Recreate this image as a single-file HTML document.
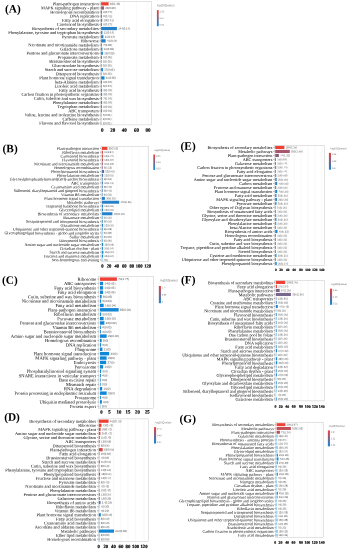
<!DOCTYPE html>
<html><head><meta charset="utf-8"><title>KEGG enrichment</title>
<style>
html,body{margin:0;padding:0;background:#fff}
body{width:349px;height:550px;overflow:hidden}
svg{display:block}
text{font-family:"Liberation Serif",serif;text-rendering:geometricPrecision}
.pl{font-weight:bold;font-size:11.3px;fill:#000}
.lab text{text-anchor:end;fill:#000}
.val text{font-family:"Liberation Sans",sans-serif;fill:#4c4c4c}
.tk text{font-weight:bold;text-anchor:middle;fill:#000;stroke:#000;stroke-width:0.16px}
.lt{font-family:"Liberation Sans",sans-serif;fill:#686868}
.ll{font-family:"Liberation Sans",sans-serif;fill:#686868}
</style></head><body>
<svg width="349" height="550" viewBox="0 0 349 550">
<defs><linearGradient id="lg" x1="0" y1="0" x2="0" y2="1"><stop offset="0" stop-color="#ee4035"/><stop offset="1" stop-color="#1088d8"/></linearGradient></defs>
<rect width="349" height="550" fill="#fff"/>
<g class="panel">
<line x1="112.70" y1="1.40" x2="112.70" y2="124.90" stroke="#ececec" stroke-width="0.35"/>
<line x1="124.20" y1="1.40" x2="124.20" y2="124.90" stroke="#ececec" stroke-width="0.35"/>
<line x1="136.40" y1="1.40" x2="136.40" y2="124.90" stroke="#ececec" stroke-width="0.35"/>
<line x1="147.90" y1="1.40" x2="147.90" y2="124.90" stroke="#ececec" stroke-width="0.35"/>
<rect x="100.60" y="1.40" width="51.10" height="123.50" fill="none" stroke="#b8b8b8" stroke-width="0.4"/>
<text class="pl" x="5.00" y="12.40" transform="rotate(0.05 5.00 12.40)">(A)</text>
<g class="lab" font-size="4.342">
<text x="98.60" y="5.25" transform="rotate(0.05 98.60 5.15)">Plant-pathogen interaction</text>
<text x="98.60" y="9.37" transform="rotate(0.05 98.60 9.27)">MAPK signaling pathway - plant</text>
<text x="98.60" y="13.48" transform="rotate(0.05 98.60 13.38)">Homologous recombination</text>
<text x="98.60" y="17.60" transform="rotate(0.05 98.60 17.50)">DNA replication</text>
<text x="98.60" y="21.71" transform="rotate(0.05 98.60 21.61)">Fatty acid elongation</text>
<text x="98.60" y="25.83" transform="rotate(0.05 98.60 25.73)">Carotenoid biosynthesis</text>
<text x="98.60" y="29.95" transform="rotate(0.05 98.60 29.85)">Biosynthesis of secondary metabolites</text>
<text x="98.60" y="34.06" transform="rotate(0.05 98.60 33.96)">Phenylalanine, tyrosine and tryptophan biosynthesis</text>
<text x="98.60" y="38.18" transform="rotate(0.05 98.60 38.08)">Pyruvate metabolism</text>
<text x="98.60" y="42.29" transform="rotate(0.05 98.60 42.19)">Ribosome</text>
<text x="98.60" y="46.41" transform="rotate(0.05 98.60 46.31)">Nicotinate and nicotinamide metabolism</text>
<text x="98.60" y="50.52" transform="rotate(0.05 98.60 50.42)">Galactose metabolism</text>
<text x="98.60" y="54.64" transform="rotate(0.05 98.60 54.54)">Pentose and glucuronate interconversions</text>
<text x="98.60" y="58.75" transform="rotate(0.05 98.60 58.65)">Propanoate metabolism</text>
<text x="98.60" y="62.87" transform="rotate(0.05 98.60 62.77)">Brassinosteroid biosynthesis</text>
<text x="98.60" y="66.99" transform="rotate(0.05 98.60 66.89)">Glucosinolate biosynthesis</text>
<text x="98.60" y="71.10" transform="rotate(0.05 98.60 71.00)">Starch and sucrose metabolism</text>
<text x="98.60" y="75.22" transform="rotate(0.05 98.60 75.12)">Diterpenoid biosynthesis</text>
<text x="98.60" y="79.33" transform="rotate(0.05 98.60 79.23)">Plant hormone signal transduction</text>
<text x="98.60" y="83.45" transform="rotate(0.05 98.60 83.35)">beta-Alanine metabolism</text>
<text x="98.60" y="87.56" transform="rotate(0.05 98.60 87.46)">Linoleic acid metabolism</text>
<text x="98.60" y="91.68" transform="rotate(0.05 98.60 91.58)">Fatty acid biosynthesis</text>
<text x="98.60" y="95.79" transform="rotate(0.05 98.60 95.69)">Carbon fixation in photosynthetic organisms</text>
<text x="98.60" y="99.91" transform="rotate(0.05 98.60 99.81)">Cutin, suberine and wax biosynthesis</text>
<text x="98.60" y="104.02" transform="rotate(0.05 98.60 103.92)">Phenylalanine metabolism</text>
<text x="98.60" y="108.14" transform="rotate(0.05 98.60 108.04)">Tryptophan metabolism</text>
<text x="98.60" y="112.26" transform="rotate(0.05 98.60 112.16)">ABC transporters</text>
<text x="98.60" y="116.37" transform="rotate(0.05 98.60 116.27)">Valine, leucine and isoleucine biosynthesis</text>
<text x="98.60" y="120.49" transform="rotate(0.05 98.60 120.39)">Caffeine metabolism</text>
<text x="98.60" y="124.60" transform="rotate(0.05 98.60 124.50)">Flavone and flavonol biosynthesis</text>
</g>
<line x1="99.40" y1="3.85" x2="100.60" y2="3.85" stroke="#333" stroke-width="0.4"/>
<line x1="99.40" y1="7.97" x2="100.60" y2="7.97" stroke="#333" stroke-width="0.4"/>
<line x1="99.40" y1="12.08" x2="100.60" y2="12.08" stroke="#333" stroke-width="0.4"/>
<line x1="99.40" y1="16.20" x2="100.60" y2="16.20" stroke="#333" stroke-width="0.4"/>
<line x1="99.40" y1="20.31" x2="100.60" y2="20.31" stroke="#333" stroke-width="0.4"/>
<line x1="99.40" y1="24.43" x2="100.60" y2="24.43" stroke="#333" stroke-width="0.4"/>
<line x1="99.40" y1="28.54" x2="100.60" y2="28.54" stroke="#333" stroke-width="0.4"/>
<line x1="99.40" y1="32.66" x2="100.60" y2="32.66" stroke="#333" stroke-width="0.4"/>
<line x1="99.40" y1="36.77" x2="100.60" y2="36.77" stroke="#333" stroke-width="0.4"/>
<line x1="99.40" y1="40.89" x2="100.60" y2="40.89" stroke="#333" stroke-width="0.4"/>
<line x1="99.40" y1="45.01" x2="100.60" y2="45.01" stroke="#333" stroke-width="0.4"/>
<line x1="99.40" y1="49.12" x2="100.60" y2="49.12" stroke="#333" stroke-width="0.4"/>
<line x1="99.40" y1="53.24" x2="100.60" y2="53.24" stroke="#333" stroke-width="0.4"/>
<line x1="99.40" y1="57.35" x2="100.60" y2="57.35" stroke="#333" stroke-width="0.4"/>
<line x1="99.40" y1="61.47" x2="100.60" y2="61.47" stroke="#333" stroke-width="0.4"/>
<line x1="99.40" y1="65.58" x2="100.60" y2="65.58" stroke="#333" stroke-width="0.4"/>
<line x1="99.40" y1="69.70" x2="100.60" y2="69.70" stroke="#333" stroke-width="0.4"/>
<line x1="99.40" y1="73.81" x2="100.60" y2="73.81" stroke="#333" stroke-width="0.4"/>
<line x1="99.40" y1="77.93" x2="100.60" y2="77.93" stroke="#333" stroke-width="0.4"/>
<line x1="99.40" y1="82.04" x2="100.60" y2="82.04" stroke="#333" stroke-width="0.4"/>
<line x1="99.40" y1="86.16" x2="100.60" y2="86.16" stroke="#333" stroke-width="0.4"/>
<line x1="99.40" y1="90.28" x2="100.60" y2="90.28" stroke="#333" stroke-width="0.4"/>
<line x1="99.40" y1="94.39" x2="100.60" y2="94.39" stroke="#333" stroke-width="0.4"/>
<line x1="99.40" y1="98.51" x2="100.60" y2="98.51" stroke="#333" stroke-width="0.4"/>
<line x1="99.40" y1="102.62" x2="100.60" y2="102.62" stroke="#333" stroke-width="0.4"/>
<line x1="99.40" y1="106.74" x2="100.60" y2="106.74" stroke="#333" stroke-width="0.4"/>
<line x1="99.40" y1="110.85" x2="100.60" y2="110.85" stroke="#333" stroke-width="0.4"/>
<line x1="99.40" y1="114.97" x2="100.60" y2="114.97" stroke="#333" stroke-width="0.4"/>
<line x1="99.40" y1="119.08" x2="100.60" y2="119.08" stroke="#333" stroke-width="0.4"/>
<line x1="99.40" y1="123.20" x2="100.60" y2="123.20" stroke="#333" stroke-width="0.4"/>
<g class="val" font-size="2.757">
<rect x="101.10" y="2.24" width="7.50" height="3.21" fill="#ee4035"/>
<text x="109.92" y="4.79" transform="rotate(0.05 109.92 4.79)">68(1.33)</text>
<rect x="101.10" y="6.36" width="2.90" height="3.21" fill="#955d76"/>
<text x="105.32" y="8.90" transform="rotate(0.05 105.32 8.90)">26(0.80)</text>
<rect x="101.10" y="10.48" width="0.90" height="3.21" fill="#8a607e"/>
<text x="103.32" y="13.02" transform="rotate(0.05 103.32 13.02)">8(0.74)</text>
<rect x="101.10" y="14.59" width="0.90" height="3.21" fill="#5372a7"/>
<text x="103.32" y="17.13" transform="rotate(0.05 103.32 17.13)">8(0.41)</text>
<rect x="101.10" y="18.71" width="1.10" height="3.21" fill="#5372a7"/>
<text x="103.52" y="21.25" transform="rotate(0.05 103.52 21.25)">10(0.41)</text>
<rect x="101.10" y="22.82" width="0.90" height="3.21" fill="#3c7ab7"/>
<text x="103.32" y="25.37" transform="rotate(0.05 103.32 25.37)">8(0.27)</text>
<rect x="101.10" y="26.94" width="15.80" height="3.21" fill="#2681c8"/>
<text x="118.22" y="29.48" transform="rotate(0.05 118.22 29.48)">144(0.14)</text>
<rect x="101.10" y="31.05" width="1.30" height="3.21" fill="#2681c8"/>
<text x="103.72" y="33.60" transform="rotate(0.05 103.72 33.60)">12(0.14)</text>
<rect x="101.10" y="35.17" width="2.30" height="3.21" fill="#2681c8"/>
<text x="104.72" y="37.71" transform="rotate(0.05 104.72 37.71)">21(0.14)</text>
<rect x="101.10" y="39.28" width="4.50" height="3.21" fill="#2681c8"/>
<text x="106.92" y="41.83" transform="rotate(0.05 106.92 41.83)">41(0.14)</text>
<rect x="101.10" y="43.40" width="0.80" height="3.21" fill="#1b84d0"/>
<text x="103.22" y="45.94" transform="rotate(0.05 103.22 45.94)">7(0.08)</text>
<rect x="101.10" y="47.52" width="1.30" height="3.21" fill="#1b84d0"/>
<text x="103.72" y="50.06" transform="rotate(0.05 103.72 50.06)">12(0.08)</text>
<rect x="101.10" y="51.63" width="1.80" height="3.21" fill="#1b84d0"/>
<text x="104.22" y="54.17" transform="rotate(0.05 104.22 54.17)">16(0.08)</text>
<rect x="101.10" y="55.75" width="0.90" height="3.21" fill="#1786d3"/>
<text x="103.32" y="58.29" transform="rotate(0.05 103.32 58.29)">8(0.05)</text>
<rect x="101.10" y="59.86" width="0.50" height="3.21" fill="#1786d3"/>
<text x="102.92" y="62.40" transform="rotate(0.05 102.92 62.40)">5(0.05)</text>
<rect x="101.10" y="63.98" width="0.50" height="3.21" fill="#1786d3"/>
<text x="102.92" y="66.52" transform="rotate(0.05 102.92 66.52)">5(0.05)</text>
<rect x="101.10" y="68.09" width="1.90" height="3.21" fill="#1786d3"/>
<text x="104.32" y="70.64" transform="rotate(0.05 104.32 70.64)">17(0.05)</text>
<rect x="101.10" y="72.21" width="0.50" height="3.21" fill="#1786d3"/>
<text x="102.92" y="74.75" transform="rotate(0.05 102.92 74.75)">5(0.05)</text>
<rect x="101.10" y="76.32" width="3.40" height="3.21" fill="#1786d3"/>
<text x="105.82" y="78.87" transform="rotate(0.05 105.82 78.87)">31(0.05)</text>
<rect x="101.10" y="80.44" width="0.90" height="3.21" fill="#1487d5"/>
<text x="103.32" y="82.98" transform="rotate(0.05 103.32 82.98)">8(0.04)</text>
<rect x="101.10" y="84.56" width="0.60" height="3.21" fill="#1487d5"/>
<text x="103.02" y="87.10" transform="rotate(0.05 103.02 87.10)">5(0.04)</text>
<rect x="101.10" y="88.67" width="1.00" height="3.21" fill="#1487d5"/>
<text x="103.42" y="91.21" transform="rotate(0.05 103.42 91.21)">9(0.04)</text>
<rect x="101.10" y="92.79" width="1.00" height="3.21" fill="#1487d5"/>
<text x="103.42" y="95.33" transform="rotate(0.05 103.42 95.33)">9(0.04)</text>
<rect x="101.10" y="96.90" width="0.75" height="3.21" fill="#1487d5"/>
<text x="103.17" y="99.44" transform="rotate(0.05 103.17 99.44)">7(0.04)</text>
<rect x="101.10" y="101.02" width="1.00" height="3.21" fill="#1487d5"/>
<text x="103.42" y="103.56" transform="rotate(0.05 103.42 103.56)">9(0.04)</text>
<rect x="101.10" y="105.13" width="0.90" height="3.21" fill="#1088d8"/>
<text x="103.32" y="107.68" transform="rotate(0.05 103.32 107.68)">8(0.01)</text>
<rect x="101.10" y="109.25" width="0.90" height="3.21" fill="#1088d8"/>
<text x="103.32" y="111.79" transform="rotate(0.05 103.32 111.79)">8(0.01)</text>
<rect x="101.10" y="113.36" width="0.40" height="3.21" fill="#1088d8"/>
<text x="102.82" y="115.91" transform="rotate(0.05 102.82 115.91)">4(0.01)</text>
<rect x="101.10" y="117.48" width="0.30" height="3.21" fill="#1088d8"/>
<text x="102.72" y="120.02" transform="rotate(0.05 102.72 120.02)">3(0.01)</text>
<rect x="101.10" y="121.59" width="0.30" height="3.21" fill="#1088d8"/>
<text x="102.72" y="124.14" transform="rotate(0.05 102.72 124.14)">3(0.01)</text>
</g>
<g class="tk" font-size="5.00">
<text x="102.20" y="131.75" transform="rotate(0.05 102.20 130.10)">0</text>
<text x="112.70" y="131.75" transform="rotate(0.05 112.70 130.10)">20</text>
<text x="124.20" y="131.75" transform="rotate(0.05 124.20 130.10)">40</text>
<text x="136.40" y="131.75" transform="rotate(0.05 136.40 130.10)">60</text>
<text x="147.90" y="131.75" transform="rotate(0.05 147.90 130.10)">80</text>
</g>
<text class="lt" x="156.00" y="6.14" font-size="2.80" transform="rotate(0.05 156.00 5.30)">-log10(Qvalue)</text>
<rect x="156.90" y="10.10" width="1.80" height="16.10" fill="url(#lg)"/>
<text class="ll" x="159.60" y="12.30" font-size="2.3" transform="rotate(0.05 156.90 11.50)">1.33</text>
<text class="ll" x="159.60" y="18.95" font-size="2.3" transform="rotate(0.05 156.90 18.15)">0.67</text>
<text class="ll" x="159.60" y="25.60" font-size="2.3" transform="rotate(0.05 156.90 24.80)">0.01</text>
</g>
<g class="panel">
<line x1="109.00" y1="146.60" x2="109.00" y2="261.80" stroke="#ececec" stroke-width="0.35"/>
<line x1="116.80" y1="146.60" x2="116.80" y2="261.80" stroke="#ececec" stroke-width="0.35"/>
<line x1="124.20" y1="146.60" x2="124.20" y2="261.80" stroke="#ececec" stroke-width="0.35"/>
<line x1="131.80" y1="146.60" x2="131.80" y2="261.80" stroke="#ececec" stroke-width="0.35"/>
<line x1="139.20" y1="146.60" x2="139.20" y2="261.80" stroke="#ececec" stroke-width="0.35"/>
<line x1="147.60" y1="146.60" x2="147.60" y2="261.80" stroke="#ececec" stroke-width="0.35"/>
<rect x="101.10" y="146.60" width="47.70" height="115.20" fill="none" stroke="#b8b8b8" stroke-width="0.4"/>
<text class="pl" x="2.60" y="152.20" transform="rotate(0.05 2.60 152.20)">(B)</text>
<g class="lab" font-size="4.018">
<text x="99.10" y="149.86" transform="rotate(0.05 99.10 149.61)">Plant-pathogen interaction</text>
<text x="99.10" y="153.70" transform="rotate(0.05 99.10 153.45)">Riboflavin metabolism</text>
<text x="99.10" y="157.55" transform="rotate(0.05 99.10 157.30)">Carotenoid biosynthesis</text>
<text x="99.10" y="161.39" transform="rotate(0.05 99.10 161.14)">Flavonoid biosynthesis</text>
<text x="99.10" y="165.23" transform="rotate(0.05 99.10 164.98)">Nicotinate and nicotinamide metabolism</text>
<text x="99.10" y="169.08" transform="rotate(0.05 99.10 168.83)">Homologous recombination</text>
<text x="99.10" y="172.92" transform="rotate(0.05 99.10 172.67)">Phenylpropanoid biosynthesis</text>
<text x="99.10" y="176.77" transform="rotate(0.05 99.10 176.52)">Phenylalanine metabolism</text>
<text x="99.10" y="180.61" transform="rotate(0.05 99.10 180.36)">Glycosylphosphatidylinositol(GPI)-anchor biosynthesis</text>
<text x="99.10" y="184.46" transform="rotate(0.05 99.10 184.21)">ABC transporters</text>
<text x="99.10" y="188.30" transform="rotate(0.05 99.10 188.05)">Cyanoamino acid metabolism</text>
<text x="99.10" y="192.15" transform="rotate(0.05 99.10 191.90)">Stilbenoid, diarylheptanoid and gingerol biosynthesis</text>
<text x="99.10" y="195.99" transform="rotate(0.05 99.10 195.74)">Vitamin B6 metabolism</text>
<text x="99.10" y="199.84" transform="rotate(0.05 99.10 199.59)">Plant hormone signal transduction</text>
<text x="99.10" y="203.68" transform="rotate(0.05 99.10 203.43)">Metabolic pathways</text>
<text x="99.10" y="207.53" transform="rotate(0.05 99.10 207.28)">Terpenoid backbone biosynthesis</text>
<text x="99.10" y="211.37" transform="rotate(0.05 99.10 211.12)">Glycerolipid metabolism</text>
<text x="99.10" y="215.22" transform="rotate(0.05 99.10 214.97)">Biosynthesis of secondary metabolites</text>
<text x="99.10" y="219.06" transform="rotate(0.05 99.10 218.81)">Butanoate metabolism</text>
<text x="99.10" y="222.91" transform="rotate(0.05 99.10 222.66)">Sesquiterpenoid and triterpenoid biosynthesis</text>
<text x="99.10" y="226.75" transform="rotate(0.05 99.10 226.50)">Glutathione metabolism</text>
<text x="99.10" y="230.60" transform="rotate(0.05 99.10 230.35)">Ubiquinone and other terpenoid-quinone biosynthesis</text>
<text x="99.10" y="234.44" transform="rotate(0.05 99.10 234.19)">Glycosphingolipid biosynthesis - globo and isoglobo series</text>
<text x="99.10" y="238.29" transform="rotate(0.05 99.10 238.04)">Sulfur metabolism</text>
<text x="99.10" y="242.13" transform="rotate(0.05 99.10 241.88)">Diterpenoid biosynthesis</text>
<text x="99.10" y="245.98" transform="rotate(0.05 99.10 245.73)">Amino sugar and nucleotide sugar metabolism</text>
<text x="99.10" y="249.82" transform="rotate(0.05 99.10 249.57)">Circadian rhythm - plant</text>
<text x="99.10" y="253.67" transform="rotate(0.05 99.10 253.42)">Starch and sucrose metabolism</text>
<text x="99.10" y="257.51" transform="rotate(0.05 99.10 257.26)">Fructose and mannose metabolism</text>
<text x="99.10" y="261.36" transform="rotate(0.05 99.10 261.11)">Non-homologous end-joining</text>
</g>
<line x1="99.90" y1="148.40" x2="101.10" y2="148.40" stroke="#333" stroke-width="0.4"/>
<line x1="99.90" y1="152.24" x2="101.10" y2="152.24" stroke="#333" stroke-width="0.4"/>
<line x1="99.90" y1="156.09" x2="101.10" y2="156.09" stroke="#333" stroke-width="0.4"/>
<line x1="99.90" y1="159.93" x2="101.10" y2="159.93" stroke="#333" stroke-width="0.4"/>
<line x1="99.90" y1="163.78" x2="101.10" y2="163.78" stroke="#333" stroke-width="0.4"/>
<line x1="99.90" y1="167.62" x2="101.10" y2="167.62" stroke="#333" stroke-width="0.4"/>
<line x1="99.90" y1="171.47" x2="101.10" y2="171.47" stroke="#333" stroke-width="0.4"/>
<line x1="99.90" y1="175.31" x2="101.10" y2="175.31" stroke="#333" stroke-width="0.4"/>
<line x1="99.90" y1="179.16" x2="101.10" y2="179.16" stroke="#333" stroke-width="0.4"/>
<line x1="99.90" y1="183.00" x2="101.10" y2="183.00" stroke="#333" stroke-width="0.4"/>
<line x1="99.90" y1="186.85" x2="101.10" y2="186.85" stroke="#333" stroke-width="0.4"/>
<line x1="99.90" y1="190.69" x2="101.10" y2="190.69" stroke="#333" stroke-width="0.4"/>
<line x1="99.90" y1="194.54" x2="101.10" y2="194.54" stroke="#333" stroke-width="0.4"/>
<line x1="99.90" y1="198.38" x2="101.10" y2="198.38" stroke="#333" stroke-width="0.4"/>
<line x1="99.90" y1="202.23" x2="101.10" y2="202.23" stroke="#333" stroke-width="0.4"/>
<line x1="99.90" y1="206.07" x2="101.10" y2="206.07" stroke="#333" stroke-width="0.4"/>
<line x1="99.90" y1="209.92" x2="101.10" y2="209.92" stroke="#333" stroke-width="0.4"/>
<line x1="99.90" y1="213.76" x2="101.10" y2="213.76" stroke="#333" stroke-width="0.4"/>
<line x1="99.90" y1="217.61" x2="101.10" y2="217.61" stroke="#333" stroke-width="0.4"/>
<line x1="99.90" y1="221.45" x2="101.10" y2="221.45" stroke="#333" stroke-width="0.4"/>
<line x1="99.90" y1="225.30" x2="101.10" y2="225.30" stroke="#333" stroke-width="0.4"/>
<line x1="99.90" y1="229.14" x2="101.10" y2="229.14" stroke="#333" stroke-width="0.4"/>
<line x1="99.90" y1="232.99" x2="101.10" y2="232.99" stroke="#333" stroke-width="0.4"/>
<line x1="99.90" y1="236.83" x2="101.10" y2="236.83" stroke="#333" stroke-width="0.4"/>
<line x1="99.90" y1="240.68" x2="101.10" y2="240.68" stroke="#333" stroke-width="0.4"/>
<line x1="99.90" y1="244.52" x2="101.10" y2="244.52" stroke="#333" stroke-width="0.4"/>
<line x1="99.90" y1="248.37" x2="101.10" y2="248.37" stroke="#333" stroke-width="0.4"/>
<line x1="99.90" y1="252.21" x2="101.10" y2="252.21" stroke="#333" stroke-width="0.4"/>
<line x1="99.90" y1="256.06" x2="101.10" y2="256.06" stroke="#333" stroke-width="0.4"/>
<line x1="99.90" y1="259.90" x2="101.10" y2="259.90" stroke="#333" stroke-width="0.4"/>
<g class="val" font-size="2.576">
<rect x="101.90" y="146.90" width="5.50" height="3.00" fill="#ee4035"/>
<text x="108.63" y="149.28" transform="rotate(0.05 108.63 149.28)">55(2.05)</text>
<rect x="101.90" y="150.75" width="1.10" height="3.00" fill="#d84745"/>
<text x="104.23" y="153.12" transform="rotate(0.05 104.23 153.12)">11(1.84)</text>
<rect x="101.90" y="154.59" width="1.20" height="3.00" fill="#cd4b4d"/>
<text x="104.33" y="156.97" transform="rotate(0.05 104.33 156.97)">12(1.74)</text>
<rect x="101.90" y="158.44" width="1.20" height="3.00" fill="#c24e56"/>
<text x="104.33" y="160.81" transform="rotate(0.05 104.33 160.81)">12(1.64)</text>
<rect x="101.90" y="162.28" width="1.00" height="3.00" fill="#955d76"/>
<text x="104.13" y="164.66" transform="rotate(0.05 104.13 164.66)">10(1.23)</text>
<rect x="101.90" y="166.12" width="0.80" height="3.00" fill="#8a607e"/>
<text x="103.93" y="168.50" transform="rotate(0.05 103.93 168.50)">8(1.13)</text>
<rect x="101.90" y="169.97" width="2.20" height="3.00" fill="#5372a7"/>
<text x="105.33" y="172.34" transform="rotate(0.05 105.33 172.34)">22(0.61)</text>
<rect x="101.90" y="173.81" width="1.20" height="3.00" fill="#4876af"/>
<text x="104.33" y="176.19" transform="rotate(0.05 104.33 176.19)">12(0.51)</text>
<rect x="101.90" y="177.66" width="0.80" height="3.00" fill="#4876af"/>
<text x="103.93" y="180.03" transform="rotate(0.05 103.93 180.03)">8(0.51)</text>
<rect x="101.90" y="181.50" width="1.00" height="3.00" fill="#3c7ab7"/>
<text x="104.13" y="183.88" transform="rotate(0.05 104.13 183.88)">10(0.41)</text>
<rect x="101.90" y="185.35" width="0.80" height="3.00" fill="#3c7ab7"/>
<text x="103.93" y="187.72" transform="rotate(0.05 103.93 187.72)">8(0.41)</text>
<rect x="101.90" y="189.19" width="0.80" height="3.00" fill="#3c7ab7"/>
<text x="103.93" y="191.57" transform="rotate(0.05 103.93 191.57)">8(0.41)</text>
<rect x="101.90" y="193.04" width="0.60" height="3.00" fill="#317dc0"/>
<text x="103.73" y="195.41" transform="rotate(0.05 103.73 195.41)">6(0.31)</text>
<rect x="101.90" y="196.88" width="3.00" height="3.00" fill="#2681c8"/>
<text x="106.13" y="199.26" transform="rotate(0.05 106.13 199.26)">30(0.20)</text>
<rect x="101.90" y="200.73" width="17.25" height="3.00" fill="#2681c8"/>
<text x="120.38" y="203.10" transform="rotate(0.05 120.38 203.10)">172(0.20)</text>
<rect x="101.90" y="204.57" width="1.20" height="3.00" fill="#2282cb"/>
<text x="104.33" y="206.95" transform="rotate(0.05 104.33 206.95)">12(0.16)</text>
<rect x="101.90" y="208.42" width="1.20" height="3.00" fill="#2282cb"/>
<text x="104.33" y="210.79" transform="rotate(0.05 104.33 210.79)">12(0.16)</text>
<rect x="101.90" y="212.26" width="10.50" height="3.00" fill="#2282cb"/>
<text x="113.63" y="214.64" transform="rotate(0.05 113.63 214.64)">105(0.16)</text>
<rect x="101.90" y="216.11" width="0.60" height="3.00" fill="#1b84d0"/>
<text x="103.73" y="218.48" transform="rotate(0.05 103.73 218.48)">6(0.10)</text>
<rect x="101.90" y="219.95" width="0.80" height="3.00" fill="#1b84d0"/>
<text x="103.93" y="222.33" transform="rotate(0.05 103.93 222.33)">8(0.10)</text>
<rect x="101.90" y="223.80" width="1.20" height="3.00" fill="#1b84d0"/>
<text x="104.33" y="226.17" transform="rotate(0.05 104.33 226.17)">12(0.10)</text>
<rect x="101.90" y="227.64" width="0.80" height="3.00" fill="#1985d1"/>
<text x="103.93" y="230.02" transform="rotate(0.05 103.93 230.02)">8(0.08)</text>
<rect x="101.90" y="231.49" width="0.50" height="3.00" fill="#1985d1"/>
<text x="103.63" y="233.86" transform="rotate(0.05 103.63 233.86)">5(0.08)</text>
<rect x="101.90" y="235.33" width="0.50" height="3.00" fill="#1786d3"/>
<text x="103.63" y="237.71" transform="rotate(0.05 103.63 237.71)">5(0.06)</text>
<rect x="101.90" y="239.18" width="0.60" height="3.00" fill="#1786d3"/>
<text x="103.73" y="241.55" transform="rotate(0.05 103.73 241.55)">6(0.06)</text>
<rect x="101.90" y="243.02" width="1.30" height="3.00" fill="#1786d3"/>
<text x="104.43" y="245.40" transform="rotate(0.05 104.43 245.40)">13(0.06)</text>
<rect x="101.90" y="246.87" width="1.00" height="3.00" fill="#1487d5"/>
<text x="104.13" y="249.24" transform="rotate(0.05 104.13 249.24)">10(0.04)</text>
<rect x="101.90" y="250.71" width="1.50" height="3.00" fill="#1487d5"/>
<text x="104.63" y="253.09" transform="rotate(0.05 104.63 253.09)">15(0.04)</text>
<rect x="101.90" y="254.56" width="1.20" height="3.00" fill="#1487d5"/>
<text x="104.33" y="256.93" transform="rotate(0.05 104.33 256.93)">12(0.04)</text>
<rect x="101.90" y="258.40" width="0.40" height="3.00" fill="#1088d8"/>
<text x="103.53" y="260.78" transform="rotate(0.05 103.53 260.78)">4(0)</text>
</g>
<g class="tk" font-size="4.60">
<text x="102.50" y="267.42" transform="rotate(0.05 102.50 265.90)">0</text>
<text x="109.00" y="267.42" transform="rotate(0.05 109.00 265.90)">20</text>
<text x="116.80" y="267.42" transform="rotate(0.05 116.80 265.90)">40</text>
<text x="124.20" y="267.42" transform="rotate(0.05 124.20 265.90)">60</text>
<text x="131.80" y="267.42" transform="rotate(0.05 131.80 265.90)">80</text>
<text x="139.20" y="267.42" transform="rotate(0.05 139.20 265.90)">100</text>
<text x="147.60" y="267.42" transform="rotate(0.05 147.60 265.90)">120</text>
</g>
<text class="lt" x="153.85" y="150.94" font-size="2.46" transform="rotate(0.05 153.85 150.20)">-log10(Qvalue)</text>
<rect x="153.30" y="154.50" width="1.75" height="15.45" fill="url(#lg)"/>
<text class="ll" x="155.95" y="156.70" font-size="2.3" transform="rotate(0.05 153.30 155.90)">2.05</text>
<text class="ll" x="155.95" y="163.03" font-size="2.3" transform="rotate(0.05 153.30 162.22)">1.03</text>
<text class="ll" x="155.95" y="169.35" font-size="2.3" transform="rotate(0.05 153.30 168.55)">0.00</text>
</g>
<g class="panel">
<line x1="109.40" y1="276.50" x2="109.40" y2="408.50" stroke="#ececec" stroke-width="0.35"/>
<line x1="119.00" y1="276.50" x2="119.00" y2="408.50" stroke="#ececec" stroke-width="0.35"/>
<line x1="127.90" y1="276.50" x2="127.90" y2="408.50" stroke="#ececec" stroke-width="0.35"/>
<line x1="137.40" y1="276.50" x2="137.40" y2="408.50" stroke="#ececec" stroke-width="0.35"/>
<line x1="147.30" y1="276.50" x2="147.30" y2="408.50" stroke="#ececec" stroke-width="0.35"/>
<rect x="98.55" y="276.50" width="54.95" height="132.00" fill="none" stroke="#b8b8b8" stroke-width="0.4"/>
<text class="pl" x="2.00" y="283.70" transform="rotate(0.05 2.00 283.70)">(C)</text>
<g class="lab" font-size="4.584">
<text x="96.15" y="280.73" transform="rotate(0.05 96.15 280.48)">Ribosome</text>
<text x="96.15" y="285.11" transform="rotate(0.05 96.15 284.86)">ABC transporters</text>
<text x="96.15" y="289.50" transform="rotate(0.05 96.15 289.25)">Fatty acid biosynthesis</text>
<text x="96.15" y="293.88" transform="rotate(0.05 96.15 293.63)">Fatty acid elongation</text>
<text x="96.15" y="298.27" transform="rotate(0.05 96.15 298.02)">Cutin, suberine and wax biosynthesis</text>
<text x="96.15" y="302.66" transform="rotate(0.05 96.15 302.41)">Nicotinate and nicotinamide metabolism</text>
<text x="96.15" y="307.04" transform="rotate(0.05 96.15 306.79)">Fatty acid metabolism</text>
<text x="96.15" y="311.43" transform="rotate(0.05 96.15 311.18)">Plant-pathogen interaction</text>
<text x="96.15" y="315.81" transform="rotate(0.05 96.15 315.56)">Riboflavin metabolism</text>
<text x="96.15" y="320.20" transform="rotate(0.05 96.15 319.95)">Pyruvate metabolism</text>
<text x="96.15" y="324.59" transform="rotate(0.05 96.15 324.34)">Pentose and glucuronate interconversions</text>
<text x="96.15" y="328.97" transform="rotate(0.05 96.15 328.72)">Vitamin B6 metabolism</text>
<text x="96.15" y="333.36" transform="rotate(0.05 96.15 333.11)">Brassinosteroid biosynthesis</text>
<text x="96.15" y="337.75" transform="rotate(0.05 96.15 337.50)">Amino sugar and nucleotide sugar metabolism</text>
<text x="96.15" y="342.13" transform="rotate(0.05 96.15 341.88)">Homologous recombination</text>
<text x="96.15" y="346.52" transform="rotate(0.05 96.15 346.27)">DNA replication</text>
<text x="96.15" y="350.90" transform="rotate(0.05 96.15 350.65)">Phagosome</text>
<text x="96.15" y="355.29" transform="rotate(0.05 96.15 355.04)">Plant hormone signal transduction</text>
<text x="96.15" y="359.68" transform="rotate(0.05 96.15 359.43)">MAPK signaling pathway - plant</text>
<text x="96.15" y="364.06" transform="rotate(0.05 96.15 363.81)">Endocytosis</text>
<text x="96.15" y="368.45" transform="rotate(0.05 96.15 368.20)">Peroxisome</text>
<text x="96.15" y="372.84" transform="rotate(0.05 96.15 372.59)">Phosphatidylinositol signaling system</text>
<text x="96.15" y="377.22" transform="rotate(0.05 96.15 376.97)">SNARE interactions in vesicular transport</text>
<text x="96.15" y="381.61" transform="rotate(0.05 96.15 381.36)">Base excision repair</text>
<text x="96.15" y="385.99" transform="rotate(0.05 96.15 385.74)">Mismatch repair</text>
<text x="96.15" y="390.38" transform="rotate(0.05 96.15 390.13)">RNA degradation</text>
<text x="96.15" y="394.77" transform="rotate(0.05 96.15 394.52)">Protein processing in endoplasmic reticulum</text>
<text x="96.15" y="399.15" transform="rotate(0.05 96.15 398.90)">Proteasome</text>
<text x="96.15" y="403.54" transform="rotate(0.05 96.15 403.29)">Ubiquitin mediated proteolysis</text>
<text x="96.15" y="407.93" transform="rotate(0.05 96.15 407.68)">Protein export</text>
</g>
<line x1="97.35" y1="279.10" x2="98.55" y2="279.10" stroke="#333" stroke-width="0.4"/>
<line x1="97.35" y1="283.49" x2="98.55" y2="283.49" stroke="#333" stroke-width="0.4"/>
<line x1="97.35" y1="287.87" x2="98.55" y2="287.87" stroke="#333" stroke-width="0.4"/>
<line x1="97.35" y1="292.26" x2="98.55" y2="292.26" stroke="#333" stroke-width="0.4"/>
<line x1="97.35" y1="296.64" x2="98.55" y2="296.64" stroke="#333" stroke-width="0.4"/>
<line x1="97.35" y1="301.03" x2="98.55" y2="301.03" stroke="#333" stroke-width="0.4"/>
<line x1="97.35" y1="305.42" x2="98.55" y2="305.42" stroke="#333" stroke-width="0.4"/>
<line x1="97.35" y1="309.80" x2="98.55" y2="309.80" stroke="#333" stroke-width="0.4"/>
<line x1="97.35" y1="314.19" x2="98.55" y2="314.19" stroke="#333" stroke-width="0.4"/>
<line x1="97.35" y1="318.58" x2="98.55" y2="318.58" stroke="#333" stroke-width="0.4"/>
<line x1="97.35" y1="322.96" x2="98.55" y2="322.96" stroke="#333" stroke-width="0.4"/>
<line x1="97.35" y1="327.35" x2="98.55" y2="327.35" stroke="#333" stroke-width="0.4"/>
<line x1="97.35" y1="331.73" x2="98.55" y2="331.73" stroke="#333" stroke-width="0.4"/>
<line x1="97.35" y1="336.12" x2="98.55" y2="336.12" stroke="#333" stroke-width="0.4"/>
<line x1="97.35" y1="340.51" x2="98.55" y2="340.51" stroke="#333" stroke-width="0.4"/>
<line x1="97.35" y1="344.89" x2="98.55" y2="344.89" stroke="#333" stroke-width="0.4"/>
<line x1="97.35" y1="349.28" x2="98.55" y2="349.28" stroke="#333" stroke-width="0.4"/>
<line x1="97.35" y1="353.67" x2="98.55" y2="353.67" stroke="#333" stroke-width="0.4"/>
<line x1="97.35" y1="358.05" x2="98.55" y2="358.05" stroke="#333" stroke-width="0.4"/>
<line x1="97.35" y1="362.44" x2="98.55" y2="362.44" stroke="#333" stroke-width="0.4"/>
<line x1="97.35" y1="366.82" x2="98.55" y2="366.82" stroke="#333" stroke-width="0.4"/>
<line x1="97.35" y1="371.21" x2="98.55" y2="371.21" stroke="#333" stroke-width="0.4"/>
<line x1="97.35" y1="375.60" x2="98.55" y2="375.60" stroke="#333" stroke-width="0.4"/>
<line x1="97.35" y1="379.98" x2="98.55" y2="379.98" stroke="#333" stroke-width="0.4"/>
<line x1="97.35" y1="384.37" x2="98.55" y2="384.37" stroke="#333" stroke-width="0.4"/>
<line x1="97.35" y1="388.76" x2="98.55" y2="388.76" stroke="#333" stroke-width="0.4"/>
<line x1="97.35" y1="393.14" x2="98.55" y2="393.14" stroke="#333" stroke-width="0.4"/>
<line x1="97.35" y1="397.53" x2="98.55" y2="397.53" stroke="#333" stroke-width="0.4"/>
<line x1="97.35" y1="401.91" x2="98.55" y2="401.91" stroke="#333" stroke-width="0.4"/>
<line x1="97.35" y1="406.30" x2="98.55" y2="406.30" stroke="#333" stroke-width="0.4"/>
<g class="val" font-size="2.939">
<rect x="99.90" y="277.39" width="17.00" height="3.42" fill="#ee4035"/>
<text x="118.30" y="280.10" transform="rotate(0.05 118.30 280.10)">74(1.77)</text>
<rect x="99.90" y="281.78" width="3.20" height="3.42" fill="#1786d3"/>
<text x="104.50" y="284.49" transform="rotate(0.05 104.50 284.49)">14(0.05)</text>
<rect x="99.90" y="286.16" width="3.20" height="3.42" fill="#1786d3"/>
<text x="104.50" y="288.87" transform="rotate(0.05 104.50 288.87)">14(0.05)</text>
<rect x="99.90" y="290.55" width="3.20" height="3.42" fill="#1786d3"/>
<text x="104.50" y="293.26" transform="rotate(0.05 104.50 293.26)">14(0.05)</text>
<rect x="99.90" y="294.93" width="1.75" height="3.42" fill="#1786d3"/>
<text x="103.05" y="297.64" transform="rotate(0.05 103.05 297.64)">8(0.05)</text>
<rect x="99.90" y="299.32" width="1.25" height="3.42" fill="#1487d5"/>
<text x="102.55" y="302.03" transform="rotate(0.05 102.55 302.03)">5(0.04)</text>
<rect x="99.90" y="303.71" width="3.75" height="3.42" fill="#1487d5"/>
<text x="105.05" y="306.42" transform="rotate(0.05 105.05 306.42)">16(0.04)</text>
<rect x="99.90" y="308.09" width="18.75" height="3.42" fill="#1487d5"/>
<text x="120.05" y="310.80" transform="rotate(0.05 120.05 310.80)">82(0.04)</text>
<rect x="99.90" y="312.48" width="1.25" height="3.42" fill="#1287d6"/>
<text x="102.55" y="315.19" transform="rotate(0.05 102.55 315.19)">5(0.02)</text>
<rect x="99.90" y="316.87" width="3.75" height="3.42" fill="#1287d6"/>
<text x="105.05" y="319.58" transform="rotate(0.05 105.05 319.58)">16(0.02)</text>
<rect x="99.90" y="321.25" width="4.50" height="3.42" fill="#1287d6"/>
<text x="105.80" y="323.96" transform="rotate(0.05 105.80 323.96)">20(0.02)</text>
<rect x="99.90" y="325.64" width="1.00" height="3.42" fill="#1287d6"/>
<text x="102.30" y="328.35" transform="rotate(0.05 102.30 328.35)">4(0.02)</text>
<rect x="99.90" y="330.02" width="1.00" height="3.42" fill="#1287d6"/>
<text x="102.30" y="332.73" transform="rotate(0.05 102.30 332.73)">4(0.02)</text>
<rect x="99.90" y="334.41" width="6.75" height="3.42" fill="#1287d6"/>
<text x="108.05" y="337.12" transform="rotate(0.05 108.05 337.12)">29(0.02)</text>
<rect x="99.90" y="338.80" width="1.75" height="3.42" fill="#1088d8"/>
<text x="103.05" y="341.51" transform="rotate(0.05 103.05 341.51)">8(0)</text>
<rect x="99.90" y="343.18" width="1.25" height="3.42" fill="#1088d8"/>
<text x="102.55" y="345.89" transform="rotate(0.05 102.55 345.89)">5(0)</text>
<rect x="99.90" y="347.57" width="2.50" height="3.42" fill="#1088d8"/>
<text x="103.80" y="350.28" transform="rotate(0.05 103.80 350.28)">11(0)</text>
<rect x="99.90" y="351.95" width="9.25" height="3.42" fill="#1088d8"/>
<text x="110.55" y="354.66" transform="rotate(0.05 110.55 354.66)">40(0)</text>
<rect x="99.90" y="356.34" width="6.75" height="3.42" fill="#1088d8"/>
<text x="108.05" y="359.05" transform="rotate(0.05 108.05 359.05)">29(0)</text>
<rect x="99.90" y="360.73" width="6.25" height="3.42" fill="#1088d8"/>
<text x="107.55" y="363.44" transform="rotate(0.05 107.55 363.44)">27(0)</text>
<rect x="99.90" y="365.11" width="3.25" height="3.42" fill="#1088d8"/>
<text x="104.55" y="367.82" transform="rotate(0.05 104.55 367.82)">14(0)</text>
<rect x="99.90" y="369.50" width="1.25" height="3.42" fill="#1088d8"/>
<text x="102.55" y="372.21" transform="rotate(0.05 102.55 372.21)">5(0)</text>
<rect x="99.90" y="373.89" width="1.00" height="3.42" fill="#1088d8"/>
<text x="102.30" y="376.60" transform="rotate(0.05 102.30 376.60)">4(0)</text>
<rect x="99.90" y="378.27" width="0.75" height="3.42" fill="#1088d8"/>
<text x="102.05" y="380.98" transform="rotate(0.05 102.05 380.98)">3(0)</text>
<rect x="99.90" y="382.66" width="0.75" height="3.42" fill="#1088d8"/>
<text x="102.05" y="385.37" transform="rotate(0.05 102.05 385.37)">3(0)</text>
<rect x="99.90" y="387.04" width="2.25" height="3.42" fill="#1088d8"/>
<text x="103.55" y="389.75" transform="rotate(0.05 103.55 389.75)">10(0)</text>
<rect x="99.90" y="391.43" width="6.75" height="3.42" fill="#1088d8"/>
<text x="108.05" y="394.14" transform="rotate(0.05 108.05 394.14)">29(0)</text>
<rect x="99.90" y="395.82" width="1.00" height="3.42" fill="#1088d8"/>
<text x="102.30" y="398.53" transform="rotate(0.05 102.30 398.53)">4(0)</text>
<rect x="99.90" y="400.20" width="2.00" height="3.42" fill="#1088d8"/>
<text x="103.30" y="402.91" transform="rotate(0.05 103.30 402.91)">9(0)</text>
<rect x="99.90" y="404.59" width="0.40" height="3.42" fill="#1088d8"/>
<text x="101.70" y="407.30" transform="rotate(0.05 101.70 407.30)">2(0)</text>
</g>
<g class="tk" font-size="4.80">
<text x="101.40" y="413.58" transform="rotate(0.05 101.40 412.00)">0</text>
<text x="109.40" y="413.58" transform="rotate(0.05 109.40 412.00)">5</text>
<text x="119.00" y="413.58" transform="rotate(0.05 119.00 412.00)">10</text>
<text x="127.90" y="413.58" transform="rotate(0.05 127.90 412.00)">15</text>
<text x="137.40" y="413.58" transform="rotate(0.05 137.40 412.00)">20</text>
<text x="147.30" y="413.58" transform="rotate(0.05 147.30 412.00)">25</text>
</g>
<text class="lt" x="159.30" y="281.29" font-size="2.80" transform="rotate(0.05 159.30 280.45)">-log10(Qvalue)</text>
<rect x="158.85" y="286.00" width="2.10" height="17.20" fill="url(#lg)"/>
<text class="ll" x="161.85" y="288.20" font-size="2.3" transform="rotate(0.05 158.85 287.40)">1.77</text>
<text class="ll" x="161.85" y="295.40" font-size="2.3" transform="rotate(0.05 158.85 294.60)">0.89</text>
<text class="ll" x="161.85" y="302.60" font-size="2.3" transform="rotate(0.05 158.85 301.80)">0</text>
</g>
<g class="panel">
<line x1="105.80" y1="418.90" x2="105.80" y2="541.50" stroke="#ececec" stroke-width="0.35"/>
<line x1="113.40" y1="418.90" x2="113.40" y2="541.50" stroke="#ececec" stroke-width="0.35"/>
<line x1="121.00" y1="418.90" x2="121.00" y2="541.50" stroke="#ececec" stroke-width="0.35"/>
<line x1="127.90" y1="418.90" x2="127.90" y2="541.50" stroke="#ececec" stroke-width="0.35"/>
<line x1="135.60" y1="418.90" x2="135.60" y2="541.50" stroke="#ececec" stroke-width="0.35"/>
<line x1="144.00" y1="418.90" x2="144.00" y2="541.50" stroke="#ececec" stroke-width="0.35"/>
<rect x="98.20" y="418.90" width="50.60" height="122.60" fill="none" stroke="#b8b8b8" stroke-width="0.4"/>
<text class="pl" x="4.20" y="420.80" transform="rotate(0.05 4.20 420.80)">(D)</text>
<g class="lab" font-size="4.356">
<text x="95.90" y="422.76" transform="rotate(0.05 95.90 422.51)">Biosynthesis of secondary metabolites</text>
<text x="95.90" y="426.83" transform="rotate(0.05 95.90 426.58)">Ribosome</text>
<text x="95.90" y="430.90" transform="rotate(0.05 95.90 430.65)">MAPK signaling pathway - plant</text>
<text x="95.90" y="434.97" transform="rotate(0.05 95.90 434.72)">Amino sugar and nucleotide sugar metabolism</text>
<text x="95.90" y="439.04" transform="rotate(0.05 95.90 438.79)">Glycine, serine and threonine metabolism</text>
<text x="95.90" y="443.11" transform="rotate(0.05 95.90 442.86)">ABC transporters</text>
<text x="95.90" y="447.18" transform="rotate(0.05 95.90 446.93)">Diterpenoid biosynthesis</text>
<text x="95.90" y="451.25" transform="rotate(0.05 95.90 451.00)">Plant-pathogen interaction</text>
<text x="95.90" y="455.32" transform="rotate(0.05 95.90 455.07)">Fatty acid elongation</text>
<text x="95.90" y="459.39" transform="rotate(0.05 95.90 459.14)">Brassinosteroid biosynthesis</text>
<text x="95.90" y="463.46" transform="rotate(0.05 95.90 463.21)">Starch and sucrose metabolism</text>
<text x="95.90" y="467.53" transform="rotate(0.05 95.90 467.28)">Cutin, suberine and wax biosynthesis</text>
<text x="95.90" y="471.60" transform="rotate(0.05 95.90 471.35)">Phenylalanine, tyrosine and tryptophan biosynthesis</text>
<text x="95.90" y="475.68" transform="rotate(0.05 95.90 475.43)">Phenylpropanoid biosynthesis</text>
<text x="95.90" y="479.75" transform="rotate(0.05 95.90 479.50)">Fructose and mannose metabolism</text>
<text x="95.90" y="483.82" transform="rotate(0.05 95.90 483.57)">Pyruvate metabolism</text>
<text x="95.90" y="487.89" transform="rotate(0.05 95.90 487.64)">Nicotinate and nicotinamide metabolism</text>
<text x="95.90" y="491.96" transform="rotate(0.05 95.90 491.71)">Phenylalanine metabolism</text>
<text x="95.90" y="496.03" transform="rotate(0.05 95.90 495.78)">Pentose and glucuronate interconversions</text>
<text x="95.90" y="500.10" transform="rotate(0.05 95.90 499.85)">Galactose metabolism</text>
<text x="95.90" y="504.17" transform="rotate(0.05 95.90 503.92)">Biosynthesis of amino acids</text>
<text x="95.90" y="508.24" transform="rotate(0.05 95.90 507.99)">Riboflavin metabolism</text>
<text x="95.90" y="512.31" transform="rotate(0.05 95.90 512.06)">Vitamin B6 metabolism</text>
<text x="95.90" y="516.38" transform="rotate(0.05 95.90 516.13)">Plant hormone signal transduction</text>
<text x="95.90" y="520.45" transform="rotate(0.05 95.90 520.20)">Fatty acid biosynthesis</text>
<text x="95.90" y="524.52" transform="rotate(0.05 95.90 524.27)">Cyanoamino acid metabolism</text>
<text x="95.90" y="528.59" transform="rotate(0.05 95.90 528.34)">Ascorbate and aldarate metabolism</text>
<text x="95.90" y="532.67" transform="rotate(0.05 95.90 532.42)">Metabolic pathways</text>
<text x="95.90" y="536.74" transform="rotate(0.05 95.90 536.49)">Ether lipid metabolism</text>
<text x="95.90" y="540.81" transform="rotate(0.05 95.90 540.56)">Homologous recombination</text>
</g>
<line x1="97.00" y1="421.20" x2="98.20" y2="421.20" stroke="#333" stroke-width="0.4"/>
<line x1="97.00" y1="425.27" x2="98.20" y2="425.27" stroke="#333" stroke-width="0.4"/>
<line x1="97.00" y1="429.34" x2="98.20" y2="429.34" stroke="#333" stroke-width="0.4"/>
<line x1="97.00" y1="433.41" x2="98.20" y2="433.41" stroke="#333" stroke-width="0.4"/>
<line x1="97.00" y1="437.48" x2="98.20" y2="437.48" stroke="#333" stroke-width="0.4"/>
<line x1="97.00" y1="441.55" x2="98.20" y2="441.55" stroke="#333" stroke-width="0.4"/>
<line x1="97.00" y1="445.62" x2="98.20" y2="445.62" stroke="#333" stroke-width="0.4"/>
<line x1="97.00" y1="449.69" x2="98.20" y2="449.69" stroke="#333" stroke-width="0.4"/>
<line x1="97.00" y1="453.77" x2="98.20" y2="453.77" stroke="#333" stroke-width="0.4"/>
<line x1="97.00" y1="457.84" x2="98.20" y2="457.84" stroke="#333" stroke-width="0.4"/>
<line x1="97.00" y1="461.91" x2="98.20" y2="461.91" stroke="#333" stroke-width="0.4"/>
<line x1="97.00" y1="465.98" x2="98.20" y2="465.98" stroke="#333" stroke-width="0.4"/>
<line x1="97.00" y1="470.05" x2="98.20" y2="470.05" stroke="#333" stroke-width="0.4"/>
<line x1="97.00" y1="474.12" x2="98.20" y2="474.12" stroke="#333" stroke-width="0.4"/>
<line x1="97.00" y1="478.19" x2="98.20" y2="478.19" stroke="#333" stroke-width="0.4"/>
<line x1="97.00" y1="482.26" x2="98.20" y2="482.26" stroke="#333" stroke-width="0.4"/>
<line x1="97.00" y1="486.33" x2="98.20" y2="486.33" stroke="#333" stroke-width="0.4"/>
<line x1="97.00" y1="490.40" x2="98.20" y2="490.40" stroke="#333" stroke-width="0.4"/>
<line x1="97.00" y1="494.47" x2="98.20" y2="494.47" stroke="#333" stroke-width="0.4"/>
<line x1="97.00" y1="498.54" x2="98.20" y2="498.54" stroke="#333" stroke-width="0.4"/>
<line x1="97.00" y1="502.61" x2="98.20" y2="502.61" stroke="#333" stroke-width="0.4"/>
<line x1="97.00" y1="506.68" x2="98.20" y2="506.68" stroke="#333" stroke-width="0.4"/>
<line x1="97.00" y1="510.76" x2="98.20" y2="510.76" stroke="#333" stroke-width="0.4"/>
<line x1="97.00" y1="514.83" x2="98.20" y2="514.83" stroke="#333" stroke-width="0.4"/>
<line x1="97.00" y1="518.90" x2="98.20" y2="518.90" stroke="#333" stroke-width="0.4"/>
<line x1="97.00" y1="522.97" x2="98.20" y2="522.97" stroke="#333" stroke-width="0.4"/>
<line x1="97.00" y1="527.04" x2="98.20" y2="527.04" stroke="#333" stroke-width="0.4"/>
<line x1="97.00" y1="531.11" x2="98.20" y2="531.11" stroke="#333" stroke-width="0.4"/>
<line x1="97.00" y1="535.18" x2="98.20" y2="535.18" stroke="#333" stroke-width="0.4"/>
<line x1="97.00" y1="539.25" x2="98.20" y2="539.25" stroke="#333" stroke-width="0.4"/>
<g class="val" font-size="2.727">
<rect x="98.90" y="419.61" width="9.70" height="3.18" fill="#ee4035"/>
<text x="109.90" y="422.13" transform="rotate(0.05 109.90 422.13)">162(0.73)</text>
<rect x="98.90" y="423.68" width="2.60" height="3.18" fill="#ee4035"/>
<text x="102.80" y="426.20" transform="rotate(0.05 102.80 426.20)">43(0.73)</text>
<rect x="98.90" y="427.75" width="1.70" height="3.18" fill="#ea4138"/>
<text x="101.90" y="430.27" transform="rotate(0.05 101.90 430.27)">28(0.72)</text>
<rect x="98.90" y="431.82" width="1.50" height="3.18" fill="#ea4138"/>
<text x="101.70" y="434.34" transform="rotate(0.05 101.70 434.34)">25(0.72)</text>
<rect x="98.90" y="435.90" width="0.90" height="3.18" fill="#e3443d"/>
<text x="101.10" y="438.41" transform="rotate(0.05 101.10 438.41)">15(0.70)</text>
<rect x="98.90" y="439.97" width="0.80" height="3.18" fill="#dc4642"/>
<text x="101.00" y="442.48" transform="rotate(0.05 101.00 442.48)">13(0.68)</text>
<rect x="98.90" y="444.04" width="0.50" height="3.18" fill="#d84745"/>
<text x="100.70" y="446.55" transform="rotate(0.05 100.70 446.55)">8(0.66)</text>
<rect x="98.90" y="448.11" width="3.80" height="3.18" fill="#d34949"/>
<text x="104.00" y="450.62" transform="rotate(0.05 104.00 450.62)">63(0.65)</text>
<rect x="98.90" y="452.18" width="0.60" height="3.18" fill="#c24e56"/>
<text x="100.80" y="454.69" transform="rotate(0.05 100.80 454.69)">10(0.60)</text>
<rect x="98.90" y="456.25" width="0.40" height="3.18" fill="#c24e56"/>
<text x="100.60" y="458.76" transform="rotate(0.05 100.60 458.76)">7(0.60)</text>
<rect x="98.90" y="460.32" width="0.90" height="3.18" fill="#b05463"/>
<text x="101.10" y="462.83" transform="rotate(0.05 101.10 462.83)">15(0.55)</text>
<rect x="98.90" y="464.39" width="0.50" height="3.18" fill="#ab5666"/>
<text x="100.70" y="466.90" transform="rotate(0.05 100.70 466.90)">8(0.53)</text>
<rect x="98.90" y="468.46" width="0.70" height="3.18" fill="#a75769"/>
<text x="100.90" y="470.98" transform="rotate(0.05 100.90 470.98)">12(0.52)</text>
<rect x="98.90" y="472.53" width="1.10" height="3.18" fill="#a3586c"/>
<text x="101.30" y="475.05" transform="rotate(0.05 101.30 475.05)">18(0.51)</text>
<rect x="98.90" y="476.60" width="0.80" height="3.18" fill="#955d76"/>
<text x="101.00" y="479.12" transform="rotate(0.05 101.00 479.12)">13(0.47)</text>
<rect x="98.90" y="480.67" width="0.50" height="3.18" fill="#8a607e"/>
<text x="100.70" y="483.19" transform="rotate(0.05 100.70 483.19)">8(0.43)</text>
<rect x="98.90" y="484.74" width="0.40" height="3.18" fill="#8a607e"/>
<text x="100.60" y="487.26" transform="rotate(0.05 100.60 487.26)">7(0.43)</text>
<rect x="98.90" y="488.81" width="0.60" height="3.18" fill="#7f6486"/>
<text x="100.80" y="491.33" transform="rotate(0.05 100.80 491.33)">10(0.40)</text>
<rect x="98.90" y="492.88" width="0.80" height="3.18" fill="#74688f"/>
<text x="101.00" y="495.40" transform="rotate(0.05 101.00 495.40)">13(0.37)</text>
<rect x="98.90" y="496.96" width="0.80" height="3.18" fill="#696b97"/>
<text x="101.00" y="499.47" transform="rotate(0.05 101.00 499.47)">13(0.33)</text>
<rect x="98.90" y="501.03" width="1.60" height="3.18" fill="#4876af"/>
<text x="101.80" y="503.54" transform="rotate(0.05 101.80 503.54)">27(0.23)</text>
<rect x="98.90" y="505.10" width="0.40" height="3.18" fill="#3c7ab7"/>
<text x="100.60" y="507.61" transform="rotate(0.05 100.60 507.61)">7(0.20)</text>
<rect x="98.90" y="509.17" width="0.25" height="3.18" fill="#3c7ab7"/>
<text x="100.45" y="511.68" transform="rotate(0.05 100.45 511.68)">4(0.20)</text>
<rect x="98.90" y="513.24" width="1.90" height="3.18" fill="#1b84d0"/>
<text x="102.10" y="515.75" transform="rotate(0.05 102.10 515.75)">32(0.10)</text>
<rect x="98.90" y="517.31" width="0.50" height="3.18" fill="#1b84d0"/>
<text x="100.70" y="519.82" transform="rotate(0.05 100.70 519.82)">8(0.10)</text>
<rect x="98.90" y="521.38" width="0.50" height="3.18" fill="#1b84d0"/>
<text x="100.70" y="523.89" transform="rotate(0.05 100.70 523.89)">8(0.10)</text>
<rect x="98.90" y="525.45" width="0.50" height="3.18" fill="#1b84d0"/>
<text x="100.70" y="527.97" transform="rotate(0.05 100.70 527.97)">8(0.10)</text>
<rect x="98.90" y="529.52" width="15.10" height="3.18" fill="#1487d5"/>
<text x="115.30" y="532.04" transform="rotate(0.05 115.30 532.04)">252(0.08)</text>
<rect x="98.90" y="533.59" width="0.50" height="3.18" fill="#1487d5"/>
<text x="100.70" y="536.11" transform="rotate(0.05 100.70 536.11)">8(0.08)</text>
<rect x="98.90" y="537.66" width="0.50" height="3.18" fill="#1487d5"/>
<text x="100.70" y="540.18" transform="rotate(0.05 100.70 540.18)">8(0.08)</text>
</g>
<g class="tk" font-size="4.80">
<text x="98.60" y="547.93" transform="rotate(0.05 98.60 546.35)">0</text>
<text x="105.80" y="547.93" transform="rotate(0.05 105.80 546.35)">20</text>
<text x="113.40" y="547.93" transform="rotate(0.05 113.40 546.35)">40</text>
<text x="121.00" y="547.93" transform="rotate(0.05 121.00 546.35)">60</text>
<text x="127.90" y="547.93" transform="rotate(0.05 127.90 546.35)">80</text>
<text x="135.60" y="547.93" transform="rotate(0.05 135.60 546.35)">100</text>
<text x="144.00" y="547.93" transform="rotate(0.05 144.00 546.35)">120</text>
</g>
<text class="lt" x="154.60" y="423.21" font-size="2.54" transform="rotate(0.05 154.60 422.45)">-log10(Qvalue)</text>
<rect x="154.00" y="427.20" width="2.10" height="16.30" fill="url(#lg)"/>
<text class="ll" x="157.00" y="429.40" font-size="2.3" transform="rotate(0.05 154.00 428.60)">0.73</text>
<text class="ll" x="157.00" y="436.15" font-size="2.3" transform="rotate(0.05 154.00 435.35)">0.40</text>
<text class="ll" x="157.00" y="442.90" font-size="2.3" transform="rotate(0.05 154.00 442.10)">0.07</text>
</g>
<g class="panel">
<line x1="281.00" y1="145.20" x2="281.00" y2="265.30" stroke="#ececec" stroke-width="0.35"/>
<line x1="287.80" y1="145.20" x2="287.80" y2="265.30" stroke="#ececec" stroke-width="0.35"/>
<line x1="294.30" y1="145.20" x2="294.30" y2="265.30" stroke="#ececec" stroke-width="0.35"/>
<line x1="301.10" y1="145.20" x2="301.10" y2="265.30" stroke="#ececec" stroke-width="0.35"/>
<line x1="308.00" y1="145.20" x2="308.00" y2="265.30" stroke="#ececec" stroke-width="0.35"/>
<line x1="315.00" y1="145.20" x2="315.00" y2="265.30" stroke="#ececec" stroke-width="0.35"/>
<line x1="321.80" y1="145.20" x2="321.80" y2="265.30" stroke="#ececec" stroke-width="0.35"/>
<rect x="274.45" y="145.20" width="50.15" height="120.10" fill="none" stroke="#b8b8b8" stroke-width="0.4"/>
<text class="pl" x="180.60" y="149.80" transform="rotate(0.05 180.60 149.80)">(E)</text>
<g class="lab" font-size="4.222">
<text x="272.35" y="148.97" transform="rotate(0.05 272.35 148.72)">Biosynthesis of secondary metabolites</text>
<text x="272.35" y="152.97" transform="rotate(0.05 272.35 152.72)">Metabolic pathways</text>
<text x="272.35" y="156.97" transform="rotate(0.05 272.35 156.72)">Plant-pathogen interaction</text>
<text x="272.35" y="160.97" transform="rotate(0.05 272.35 160.72)">ABC transporters</text>
<text x="272.35" y="164.97" transform="rotate(0.05 272.35 164.72)">Galactose metabolism</text>
<text x="272.35" y="168.98" transform="rotate(0.05 272.35 168.73)">Carbon fixation in photosynthetic organisms</text>
<text x="272.35" y="172.98" transform="rotate(0.05 272.35 172.73)">Fatty acid elongation</text>
<text x="272.35" y="176.98" transform="rotate(0.05 272.35 176.73)">Pentose and glucuronate interconversions</text>
<text x="272.35" y="180.98" transform="rotate(0.05 272.35 180.73)">Amino sugar and nucleotide sugar metabolism</text>
<text x="272.35" y="184.98" transform="rotate(0.05 272.35 184.73)">Carbon metabolism</text>
<text x="272.35" y="188.98" transform="rotate(0.05 272.35 188.73)">Fructose and mannose metabolism</text>
<text x="272.35" y="192.99" transform="rotate(0.05 272.35 192.74)">Plant hormone signal transduction</text>
<text x="272.35" y="196.99" transform="rotate(0.05 272.35 196.74)">Fatty acid metabolism</text>
<text x="272.35" y="200.99" transform="rotate(0.05 272.35 200.74)">MAPK signaling pathway - plant</text>
<text x="272.35" y="204.99" transform="rotate(0.05 272.35 204.74)">Pyruvate metabolism</text>
<text x="272.35" y="208.99" transform="rotate(0.05 272.35 208.74)">Other types of O-glycan biosynthesis</text>
<text x="272.35" y="212.99" transform="rotate(0.05 272.35 212.74)">Biosynthesis of unsaturated fatty acids</text>
<text x="272.35" y="217.00" transform="rotate(0.05 272.35 216.75)">Glycine, serine and threonine metabolism</text>
<text x="272.35" y="221.00" transform="rotate(0.05 272.35 220.75)">Glyoxylate and dicarboxylate metabolism</text>
<text x="272.35" y="225.00" transform="rotate(0.05 272.35 224.75)">Phenylalanine metabolism</text>
<text x="272.35" y="229.00" transform="rotate(0.05 272.35 228.75)">beta-Alanine metabolism</text>
<text x="272.35" y="233.00" transform="rotate(0.05 272.35 232.75)">Biosynthesis of amino acids</text>
<text x="272.35" y="237.00" transform="rotate(0.05 272.35 236.75)">Homologous recombination</text>
<text x="272.35" y="241.01" transform="rotate(0.05 272.35 240.76)">Fatty acid biosynthesis</text>
<text x="272.35" y="245.01" transform="rotate(0.05 272.35 244.76)">Cutin, suberine and wax biosynthesis</text>
<text x="272.35" y="249.01" transform="rotate(0.05 272.35 248.76)">Tropane, piperidine and pyridine alkaloid biosynthesis</text>
<text x="272.35" y="253.01" transform="rotate(0.05 272.35 252.76)">Steroid biosynthesis</text>
<text x="272.35" y="257.01" transform="rotate(0.05 272.35 256.76)">Cysteine and methionine metabolism</text>
<text x="272.35" y="261.01" transform="rotate(0.05 272.35 260.76)">Ubiquinone and other terpenoid-quinone biosynthesis</text>
<text x="272.35" y="265.02" transform="rotate(0.05 272.35 264.77)">Phenylpropanoid biosynthesis</text>
</g>
<line x1="273.25" y1="147.45" x2="274.45" y2="147.45" stroke="#333" stroke-width="0.4"/>
<line x1="273.25" y1="151.45" x2="274.45" y2="151.45" stroke="#333" stroke-width="0.4"/>
<line x1="273.25" y1="155.45" x2="274.45" y2="155.45" stroke="#333" stroke-width="0.4"/>
<line x1="273.25" y1="159.46" x2="274.45" y2="159.46" stroke="#333" stroke-width="0.4"/>
<line x1="273.25" y1="163.46" x2="274.45" y2="163.46" stroke="#333" stroke-width="0.4"/>
<line x1="273.25" y1="167.46" x2="274.45" y2="167.46" stroke="#333" stroke-width="0.4"/>
<line x1="273.25" y1="171.46" x2="274.45" y2="171.46" stroke="#333" stroke-width="0.4"/>
<line x1="273.25" y1="175.46" x2="274.45" y2="175.46" stroke="#333" stroke-width="0.4"/>
<line x1="273.25" y1="179.46" x2="274.45" y2="179.46" stroke="#333" stroke-width="0.4"/>
<line x1="273.25" y1="183.47" x2="274.45" y2="183.47" stroke="#333" stroke-width="0.4"/>
<line x1="273.25" y1="187.47" x2="274.45" y2="187.47" stroke="#333" stroke-width="0.4"/>
<line x1="273.25" y1="191.47" x2="274.45" y2="191.47" stroke="#333" stroke-width="0.4"/>
<line x1="273.25" y1="195.47" x2="274.45" y2="195.47" stroke="#333" stroke-width="0.4"/>
<line x1="273.25" y1="199.47" x2="274.45" y2="199.47" stroke="#333" stroke-width="0.4"/>
<line x1="273.25" y1="203.47" x2="274.45" y2="203.47" stroke="#333" stroke-width="0.4"/>
<line x1="273.25" y1="207.48" x2="274.45" y2="207.48" stroke="#333" stroke-width="0.4"/>
<line x1="273.25" y1="211.48" x2="274.45" y2="211.48" stroke="#333" stroke-width="0.4"/>
<line x1="273.25" y1="215.48" x2="274.45" y2="215.48" stroke="#333" stroke-width="0.4"/>
<line x1="273.25" y1="219.48" x2="274.45" y2="219.48" stroke="#333" stroke-width="0.4"/>
<line x1="273.25" y1="223.48" x2="274.45" y2="223.48" stroke="#333" stroke-width="0.4"/>
<line x1="273.25" y1="227.48" x2="274.45" y2="227.48" stroke="#333" stroke-width="0.4"/>
<line x1="273.25" y1="231.49" x2="274.45" y2="231.49" stroke="#333" stroke-width="0.4"/>
<line x1="273.25" y1="235.49" x2="274.45" y2="235.49" stroke="#333" stroke-width="0.4"/>
<line x1="273.25" y1="239.49" x2="274.45" y2="239.49" stroke="#333" stroke-width="0.4"/>
<line x1="273.25" y1="243.49" x2="274.45" y2="243.49" stroke="#333" stroke-width="0.4"/>
<line x1="273.25" y1="247.49" x2="274.45" y2="247.49" stroke="#333" stroke-width="0.4"/>
<line x1="273.25" y1="251.49" x2="274.45" y2="251.49" stroke="#333" stroke-width="0.4"/>
<line x1="273.25" y1="255.50" x2="274.45" y2="255.50" stroke="#333" stroke-width="0.4"/>
<line x1="273.25" y1="259.50" x2="274.45" y2="259.50" stroke="#333" stroke-width="0.4"/>
<line x1="273.25" y1="263.50" x2="274.45" y2="263.50" stroke="#333" stroke-width="0.4"/>
<g class="val" font-size="2.681">
<rect x="275.20" y="145.89" width="9.20" height="3.12" fill="#ee4035"/>
<text x="285.68" y="148.36" transform="rotate(0.05 285.68 148.36)">184(2.16)</text>
<rect x="275.20" y="149.89" width="14.60" height="3.12" fill="#a75769"/>
<text x="291.08" y="152.36" transform="rotate(0.05 291.08 152.36)">292(1.56)</text>
<rect x="275.20" y="153.89" width="3.70" height="3.12" fill="#8a607e"/>
<text x="280.18" y="156.37" transform="rotate(0.05 280.18 156.37)">74(1.31)</text>
<rect x="275.20" y="157.89" width="0.80" height="3.12" fill="#5372a7"/>
<text x="277.28" y="160.37" transform="rotate(0.05 277.28 160.37)">16(0.84)</text>
<rect x="275.20" y="161.90" width="0.80" height="3.12" fill="#4876af"/>
<text x="277.28" y="164.37" transform="rotate(0.05 277.28 164.37)">16(0.74)</text>
<rect x="275.20" y="165.90" width="1.00" height="3.12" fill="#4876af"/>
<text x="277.48" y="168.37" transform="rotate(0.05 277.48 168.37)">20(0.74)</text>
<rect x="275.20" y="169.90" width="0.75" height="3.12" fill="#4876af"/>
<text x="277.23" y="172.37" transform="rotate(0.05 277.23 172.37)">15(0.74)</text>
<rect x="275.20" y="173.90" width="1.00" height="3.12" fill="#4178b4"/>
<text x="277.48" y="176.37" transform="rotate(0.05 277.48 176.37)">20(0.69)</text>
<rect x="275.20" y="177.90" width="1.50" height="3.12" fill="#3c7ab7"/>
<text x="277.98" y="180.38" transform="rotate(0.05 277.98 180.38)">30(0.65)</text>
<rect x="275.20" y="181.90" width="2.00" height="3.12" fill="#317dc0"/>
<text x="278.48" y="184.38" transform="rotate(0.05 278.48 184.38)">40(0.55)</text>
<rect x="275.20" y="185.91" width="1.00" height="3.12" fill="#317dc0"/>
<text x="277.48" y="188.38" transform="rotate(0.05 277.48 188.38)">20(0.55)</text>
<rect x="275.20" y="189.91" width="2.00" height="3.12" fill="#1b84d0"/>
<text x="278.48" y="192.38" transform="rotate(0.05 278.48 192.38)">40(0.36)</text>
<rect x="275.20" y="193.91" width="1.25" height="3.12" fill="#1b84d0"/>
<text x="277.73" y="196.38" transform="rotate(0.05 277.73 196.38)">25(0.36)</text>
<rect x="275.20" y="197.91" width="1.75" height="3.12" fill="#1b84d0"/>
<text x="278.23" y="200.38" transform="rotate(0.05 278.23 200.38)">35(0.36)</text>
<rect x="275.20" y="201.91" width="1.25" height="3.12" fill="#1b84d0"/>
<text x="277.73" y="204.39" transform="rotate(0.05 277.73 204.39)">25(0.36)</text>
<rect x="275.20" y="205.92" width="0.50" height="3.12" fill="#1b84d0"/>
<text x="276.98" y="208.39" transform="rotate(0.05 276.98 208.39)">10(0.36)</text>
<rect x="275.20" y="209.92" width="0.75" height="3.12" fill="#1b84d0"/>
<text x="277.23" y="212.39" transform="rotate(0.05 277.23 212.39)">15(0.36)</text>
<rect x="275.20" y="213.92" width="1.00" height="3.12" fill="#1b84d0"/>
<text x="277.48" y="216.39" transform="rotate(0.05 277.48 216.39)">20(0.36)</text>
<rect x="275.20" y="217.92" width="1.25" height="3.12" fill="#1b84d0"/>
<text x="277.73" y="220.39" transform="rotate(0.05 277.73 220.39)">25(0.36)</text>
<rect x="275.20" y="221.92" width="1.00" height="3.12" fill="#1b84d0"/>
<text x="277.48" y="224.39" transform="rotate(0.05 277.48 224.39)">20(0.36)</text>
<rect x="275.20" y="225.92" width="0.75" height="3.12" fill="#1b84d0"/>
<text x="277.23" y="228.40" transform="rotate(0.05 277.23 228.40)">15(0.36)</text>
<rect x="275.20" y="229.93" width="2.25" height="3.12" fill="#1786d3"/>
<text x="278.73" y="232.40" transform="rotate(0.05 278.73 232.40)">45(0.33)</text>
<rect x="275.20" y="233.93" width="0.75" height="3.12" fill="#1487d5"/>
<text x="277.23" y="236.40" transform="rotate(0.05 277.23 236.40)">15(0.31)</text>
<rect x="275.20" y="237.93" width="0.75" height="3.12" fill="#1487d5"/>
<text x="277.23" y="240.40" transform="rotate(0.05 277.23 240.40)">15(0.31)</text>
<rect x="275.20" y="241.93" width="0.75" height="3.12" fill="#1487d5"/>
<text x="277.23" y="244.40" transform="rotate(0.05 277.23 244.40)">15(0.31)</text>
<rect x="275.20" y="245.93" width="0.75" height="3.12" fill="#1487d5"/>
<text x="277.23" y="248.40" transform="rotate(0.05 277.23 248.40)">15(0.31)</text>
<rect x="275.20" y="249.93" width="0.75" height="3.12" fill="#1487d5"/>
<text x="277.23" y="252.41" transform="rotate(0.05 277.23 252.41)">15(0.31)</text>
<rect x="275.20" y="253.94" width="1.25" height="3.12" fill="#1487d5"/>
<text x="277.73" y="256.41" transform="rotate(0.05 277.73 256.41)">25(0.31)</text>
<rect x="275.20" y="257.94" width="0.75" height="3.12" fill="#1487d5"/>
<text x="277.23" y="260.41" transform="rotate(0.05 277.23 260.41)">15(0.31)</text>
<rect x="275.20" y="261.94" width="1.50" height="3.12" fill="#1088d8"/>
<text x="277.98" y="264.41" transform="rotate(0.05 277.98 264.41)">30(0.27)</text>
</g>
<g class="tk" font-size="3.50">
<text x="275.80" y="271.05" transform="rotate(0.05 275.80 269.90)">0</text>
<text x="281.00" y="271.05" transform="rotate(0.05 281.00 269.90)">20</text>
<text x="287.80" y="271.05" transform="rotate(0.05 287.80 269.90)">40</text>
<text x="294.30" y="271.05" transform="rotate(0.05 294.30 269.90)">60</text>
<text x="301.10" y="271.05" transform="rotate(0.05 301.10 269.90)">80</text>
<text x="308.00" y="271.05" transform="rotate(0.05 308.00 269.90)">100</text>
<text x="315.00" y="271.05" transform="rotate(0.05 315.00 269.90)">120</text>
<text x="321.80" y="271.05" transform="rotate(0.05 321.80 269.90)">140</text>
</g>
<text class="lt" x="329.75" y="149.16" font-size="2.54" transform="rotate(0.05 329.75 148.40)">-log10(Qvalue)</text>
<rect x="328.90" y="152.90" width="2.10" height="16.80" fill="url(#lg)"/>
<text class="ll" x="331.90" y="155.10" font-size="2.3" transform="rotate(0.05 328.90 154.30)">2.16</text>
<text class="ll" x="331.90" y="162.10" font-size="2.3" transform="rotate(0.05 328.90 161.30)">1.08</text>
<text class="ll" x="331.90" y="169.10" font-size="2.3" transform="rotate(0.05 328.90 168.30)">0.27</text>
</g>
<g class="panel">
<line x1="280.80" y1="280.40" x2="280.80" y2="400.90" stroke="#ececec" stroke-width="0.35"/>
<line x1="287.30" y1="280.40" x2="287.30" y2="400.90" stroke="#ececec" stroke-width="0.35"/>
<line x1="293.80" y1="280.40" x2="293.80" y2="400.90" stroke="#ececec" stroke-width="0.35"/>
<line x1="301.00" y1="280.40" x2="301.00" y2="400.90" stroke="#ececec" stroke-width="0.35"/>
<line x1="307.80" y1="280.40" x2="307.80" y2="400.90" stroke="#ececec" stroke-width="0.35"/>
<line x1="315.00" y1="280.40" x2="315.00" y2="400.90" stroke="#ececec" stroke-width="0.35"/>
<line x1="321.80" y1="280.40" x2="321.80" y2="400.90" stroke="#ececec" stroke-width="0.35"/>
<rect x="274.85" y="280.40" width="49.85" height="120.50" fill="none" stroke="#b8b8b8" stroke-width="0.4"/>
<text class="pl" x="181.10" y="283.40" transform="rotate(0.05 181.10 283.40)">(F)</text>
<g class="lab" font-size="4.240">
<text x="272.85" y="284.27" transform="rotate(0.05 272.85 283.67)">Biosynthesis of secondary metabolites</text>
<text x="272.85" y="288.29" transform="rotate(0.05 272.85 287.69)">Fatty acid elongation</text>
<text x="272.85" y="292.31" transform="rotate(0.05 272.85 291.71)">Plant-pathogen interaction</text>
<text x="272.85" y="296.33" transform="rotate(0.05 272.85 295.73)">Metabolic pathways</text>
<text x="272.85" y="300.35" transform="rotate(0.05 272.85 299.75)">ABC transporters</text>
<text x="272.85" y="304.37" transform="rotate(0.05 272.85 303.77)">Cysteine and methionine metabolism</text>
<text x="272.85" y="308.39" transform="rotate(0.05 272.85 307.79)">Plant hormone signal transduction</text>
<text x="272.85" y="312.40" transform="rotate(0.05 272.85 311.80)">Nicotinate and nicotinamide metabolism</text>
<text x="272.85" y="316.42" transform="rotate(0.05 272.85 315.82)">Flavonoid biosynthesis</text>
<text x="272.85" y="320.44" transform="rotate(0.05 272.85 319.84)">Cutin, suberine and wax biosynthesis</text>
<text x="272.85" y="324.46" transform="rotate(0.05 272.85 323.86)">Biosynthesis of unsaturated fatty acids</text>
<text x="272.85" y="328.48" transform="rotate(0.05 272.85 327.88)">Riboflavin metabolism</text>
<text x="272.85" y="332.50" transform="rotate(0.05 272.85 331.90)">Phenylalanine metabolism</text>
<text x="272.85" y="336.52" transform="rotate(0.05 272.85 335.92)">One carbon pool by folate</text>
<text x="272.85" y="340.54" transform="rotate(0.05 272.85 339.94)">Brassinosteroid biosynthesis</text>
<text x="272.85" y="344.56" transform="rotate(0.05 272.85 343.96)">DNA replication</text>
<text x="272.85" y="348.58" transform="rotate(0.05 272.85 347.98)">Fatty acid metabolism</text>
<text x="272.85" y="352.59" transform="rotate(0.05 272.85 351.99)">Starch and sucrose metabolism</text>
<text x="272.85" y="356.61" transform="rotate(0.05 272.85 356.01)">Ubiquinone and other terpenoid-quinone biosynthesis</text>
<text x="272.85" y="360.63" transform="rotate(0.05 272.85 360.03)">MAPK signaling pathway - plant</text>
<text x="272.85" y="364.65" transform="rotate(0.05 272.85 364.05)">Phenylpropanoid biosynthesis</text>
<text x="272.85" y="368.67" transform="rotate(0.05 272.85 368.07)">Fatty acid degradation</text>
<text x="272.85" y="372.69" transform="rotate(0.05 272.85 372.09)">Circadian rhythm - plant</text>
<text x="272.85" y="376.71" transform="rotate(0.05 272.85 376.11)">Glycerophospholipid metabolism</text>
<text x="272.85" y="380.73" transform="rotate(0.05 272.85 380.13)">Diterpenoid biosynthesis</text>
<text x="272.85" y="384.75" transform="rotate(0.05 272.85 384.15)">Glyoxylate and dicarboxylate metabolism</text>
<text x="272.85" y="388.77" transform="rotate(0.05 272.85 388.17)">Glycerolipid metabolism</text>
<text x="272.85" y="392.78" transform="rotate(0.05 272.85 392.18)">Stilbenoid, diarylheptanoid and gingerol biosynthesis</text>
<text x="272.85" y="396.80" transform="rotate(0.05 272.85 396.20)">Isoflavonoid biosynthesis</text>
<text x="272.85" y="400.82" transform="rotate(0.05 272.85 400.22)">Galactose metabolism</text>
</g>
<line x1="273.65" y1="282.40" x2="274.85" y2="282.40" stroke="#333" stroke-width="0.4"/>
<line x1="273.65" y1="286.42" x2="274.85" y2="286.42" stroke="#333" stroke-width="0.4"/>
<line x1="273.65" y1="290.44" x2="274.85" y2="290.44" stroke="#333" stroke-width="0.4"/>
<line x1="273.65" y1="294.46" x2="274.85" y2="294.46" stroke="#333" stroke-width="0.4"/>
<line x1="273.65" y1="298.48" x2="274.85" y2="298.48" stroke="#333" stroke-width="0.4"/>
<line x1="273.65" y1="302.49" x2="274.85" y2="302.49" stroke="#333" stroke-width="0.4"/>
<line x1="273.65" y1="306.51" x2="274.85" y2="306.51" stroke="#333" stroke-width="0.4"/>
<line x1="273.65" y1="310.53" x2="274.85" y2="310.53" stroke="#333" stroke-width="0.4"/>
<line x1="273.65" y1="314.55" x2="274.85" y2="314.55" stroke="#333" stroke-width="0.4"/>
<line x1="273.65" y1="318.57" x2="274.85" y2="318.57" stroke="#333" stroke-width="0.4"/>
<line x1="273.65" y1="322.59" x2="274.85" y2="322.59" stroke="#333" stroke-width="0.4"/>
<line x1="273.65" y1="326.61" x2="274.85" y2="326.61" stroke="#333" stroke-width="0.4"/>
<line x1="273.65" y1="330.63" x2="274.85" y2="330.63" stroke="#333" stroke-width="0.4"/>
<line x1="273.65" y1="334.65" x2="274.85" y2="334.65" stroke="#333" stroke-width="0.4"/>
<line x1="273.65" y1="338.67" x2="274.85" y2="338.67" stroke="#333" stroke-width="0.4"/>
<line x1="273.65" y1="342.68" x2="274.85" y2="342.68" stroke="#333" stroke-width="0.4"/>
<line x1="273.65" y1="346.70" x2="274.85" y2="346.70" stroke="#333" stroke-width="0.4"/>
<line x1="273.65" y1="350.72" x2="274.85" y2="350.72" stroke="#333" stroke-width="0.4"/>
<line x1="273.65" y1="354.74" x2="274.85" y2="354.74" stroke="#333" stroke-width="0.4"/>
<line x1="273.65" y1="358.76" x2="274.85" y2="358.76" stroke="#333" stroke-width="0.4"/>
<line x1="273.65" y1="362.78" x2="274.85" y2="362.78" stroke="#333" stroke-width="0.4"/>
<line x1="273.65" y1="366.80" x2="274.85" y2="366.80" stroke="#333" stroke-width="0.4"/>
<line x1="273.65" y1="370.82" x2="274.85" y2="370.82" stroke="#333" stroke-width="0.4"/>
<line x1="273.65" y1="374.84" x2="274.85" y2="374.84" stroke="#333" stroke-width="0.4"/>
<line x1="273.65" y1="378.86" x2="274.85" y2="378.86" stroke="#333" stroke-width="0.4"/>
<line x1="273.65" y1="382.87" x2="274.85" y2="382.87" stroke="#333" stroke-width="0.4"/>
<line x1="273.65" y1="386.89" x2="274.85" y2="386.89" stroke="#333" stroke-width="0.4"/>
<line x1="273.65" y1="390.91" x2="274.85" y2="390.91" stroke="#333" stroke-width="0.4"/>
<line x1="273.65" y1="394.93" x2="274.85" y2="394.93" stroke="#333" stroke-width="0.4"/>
<line x1="273.65" y1="398.95" x2="274.85" y2="398.95" stroke="#333" stroke-width="0.4"/>
<g class="val" font-size="2.693">
<rect x="275.80" y="280.83" width="9.40" height="3.13" fill="#ee4035"/>
<text x="286.49" y="283.32" transform="rotate(0.05 286.49 283.32)">209(2.45)</text>
<rect x="275.80" y="284.85" width="1.20" height="3.13" fill="#e3443d"/>
<text x="278.29" y="287.33" transform="rotate(0.05 278.29 287.33)">27(2.34)</text>
<rect x="275.80" y="288.87" width="3.90" height="3.13" fill="#7f6486"/>
<text x="280.99" y="291.35" transform="rotate(0.05 280.99 291.35)">87(1.35)</text>
<rect x="275.80" y="292.89" width="15.10" height="3.13" fill="#76678d"/>
<text x="292.19" y="295.37" transform="rotate(0.05 292.19 295.37)">336(1.26)</text>
<rect x="275.80" y="296.91" width="0.60" height="3.13" fill="#5372a7"/>
<text x="277.69" y="299.39" transform="rotate(0.05 277.69 299.39)">13(0.91)</text>
<rect x="275.80" y="300.93" width="0.90" height="3.13" fill="#317dc0"/>
<text x="277.99" y="303.41" transform="rotate(0.05 277.99 303.41)">20(0.58)</text>
<rect x="275.80" y="304.95" width="2.00" height="3.13" fill="#2282cb"/>
<text x="279.09" y="307.43" transform="rotate(0.05 279.09 307.43)">44(0.43)</text>
<rect x="275.80" y="308.97" width="0.40" height="3.13" fill="#1b84d0"/>
<text x="277.49" y="311.45" transform="rotate(0.05 277.49 311.45)">9(0.36)</text>
<rect x="275.80" y="312.98" width="0.90" height="3.13" fill="#1b84d0"/>
<text x="277.99" y="315.47" transform="rotate(0.05 277.99 315.47)">20(0.36)</text>
<rect x="275.80" y="317.00" width="0.60" height="3.13" fill="#1b84d0"/>
<text x="277.69" y="319.49" transform="rotate(0.05 277.69 319.49)">13(0.36)</text>
<rect x="275.80" y="321.02" width="0.70" height="3.13" fill="#1b84d0"/>
<text x="277.79" y="323.51" transform="rotate(0.05 277.79 323.51)">16(0.36)</text>
<rect x="275.80" y="325.04" width="0.50" height="3.13" fill="#1b84d0"/>
<text x="277.59" y="327.52" transform="rotate(0.05 277.59 327.52)">11(0.36)</text>
<rect x="275.80" y="329.06" width="0.90" height="3.13" fill="#1b84d0"/>
<text x="277.99" y="331.54" transform="rotate(0.05 277.99 331.54)">20(0.36)</text>
<rect x="275.80" y="333.08" width="0.60" height="3.13" fill="#1b84d0"/>
<text x="277.69" y="335.56" transform="rotate(0.05 277.69 335.56)">13(0.36)</text>
<rect x="275.80" y="337.10" width="0.50" height="3.13" fill="#1b84d0"/>
<text x="277.59" y="339.58" transform="rotate(0.05 277.59 339.58)">11(0.36)</text>
<rect x="275.80" y="341.12" width="0.50" height="3.13" fill="#1b84d0"/>
<text x="277.59" y="343.60" transform="rotate(0.05 277.59 343.60)">11(0.36)</text>
<rect x="275.80" y="345.14" width="0.80" height="3.13" fill="#1786d3"/>
<text x="277.89" y="347.62" transform="rotate(0.05 277.89 347.62)">18(0.32)</text>
<rect x="275.80" y="349.16" width="1.20" height="3.13" fill="#1786d3"/>
<text x="278.29" y="351.64" transform="rotate(0.05 278.29 351.64)">27(0.32)</text>
<rect x="275.80" y="353.17" width="0.50" height="3.13" fill="#1786d3"/>
<text x="277.59" y="355.66" transform="rotate(0.05 277.59 355.66)">11(0.32)</text>
<rect x="275.80" y="357.19" width="1.30" height="3.13" fill="#1088d8"/>
<text x="278.39" y="359.68" transform="rotate(0.05 278.39 359.68)">29(0.25)</text>
<rect x="275.80" y="361.21" width="1.40" height="3.13" fill="#1088d8"/>
<text x="278.49" y="363.69" transform="rotate(0.05 278.49 363.69)">31(0.25)</text>
<rect x="275.80" y="365.23" width="0.60" height="3.13" fill="#1786d3"/>
<text x="277.69" y="367.71" transform="rotate(0.05 277.69 367.71)">13(0.32)</text>
<rect x="275.80" y="369.25" width="0.90" height="3.13" fill="#1786d3"/>
<text x="277.99" y="371.73" transform="rotate(0.05 277.99 371.73)">20(0.32)</text>
<rect x="275.80" y="373.27" width="1.10" height="3.13" fill="#1786d3"/>
<text x="278.19" y="375.75" transform="rotate(0.05 278.19 375.75)">24(0.32)</text>
<rect x="275.80" y="377.29" width="0.40" height="3.13" fill="#1487d5"/>
<text x="277.49" y="379.77" transform="rotate(0.05 277.49 379.77)">9(0.29)</text>
<rect x="275.80" y="381.31" width="0.90" height="3.13" fill="#1487d5"/>
<text x="277.99" y="383.79" transform="rotate(0.05 277.99 383.79)">20(0.29)</text>
<rect x="275.80" y="385.33" width="0.90" height="3.13" fill="#1487d5"/>
<text x="277.99" y="387.81" transform="rotate(0.05 277.99 387.81)">20(0.29)</text>
<rect x="275.80" y="389.34" width="0.60" height="3.13" fill="#1487d5"/>
<text x="277.69" y="391.83" transform="rotate(0.05 277.69 391.83)">13(0.29)</text>
<rect x="275.80" y="393.36" width="0.30" height="3.13" fill="#1487d5"/>
<text x="277.39" y="395.85" transform="rotate(0.05 277.39 395.85)">7(0.29)</text>
<rect x="275.80" y="397.38" width="0.90" height="3.13" fill="#1487d5"/>
<text x="277.99" y="399.87" transform="rotate(0.05 277.99 399.87)">20(0.29)</text>
</g>
<g class="tk" font-size="3.90">
<text x="275.40" y="407.89" transform="rotate(0.05 275.40 406.60)">0</text>
<text x="280.80" y="407.89" transform="rotate(0.05 280.80 406.60)">20</text>
<text x="287.30" y="407.89" transform="rotate(0.05 287.30 406.60)">40</text>
<text x="293.80" y="407.89" transform="rotate(0.05 293.80 406.60)">60</text>
<text x="301.00" y="407.89" transform="rotate(0.05 301.00 406.60)">80</text>
<text x="307.80" y="407.89" transform="rotate(0.05 307.80 406.60)">100</text>
<text x="315.00" y="407.89" transform="rotate(0.05 315.00 406.60)">120</text>
<text x="321.80" y="407.89" transform="rotate(0.05 321.80 406.60)">140</text>
</g>
<text class="lt" x="330.60" y="284.94" font-size="2.46" transform="rotate(0.05 330.60 284.20)">-log10(Qvalue)</text>
<rect x="330.00" y="288.70" width="2.10" height="16.10" fill="url(#lg)"/>
<text class="ll" x="333.00" y="290.90" font-size="2.3" transform="rotate(0.05 330.00 290.10)">2.45</text>
<text class="ll" x="333.00" y="297.55" font-size="2.3" transform="rotate(0.05 330.00 296.75)">1.35</text>
<text class="ll" x="333.00" y="304.20" font-size="2.3" transform="rotate(0.05 330.00 303.40)">0.25</text>
</g>
<g class="panel">
<line x1="280.40" y1="422.30" x2="280.40" y2="537.20" stroke="#ececec" stroke-width="0.35"/>
<line x1="287.10" y1="422.30" x2="287.10" y2="537.20" stroke="#ececec" stroke-width="0.35"/>
<line x1="293.50" y1="422.30" x2="293.50" y2="537.20" stroke="#ececec" stroke-width="0.35"/>
<line x1="300.90" y1="422.30" x2="300.90" y2="537.20" stroke="#ececec" stroke-width="0.35"/>
<line x1="307.40" y1="422.30" x2="307.40" y2="537.20" stroke="#ececec" stroke-width="0.35"/>
<line x1="314.80" y1="422.30" x2="314.80" y2="537.20" stroke="#ececec" stroke-width="0.35"/>
<line x1="321.70" y1="422.30" x2="321.70" y2="537.20" stroke="#ececec" stroke-width="0.35"/>
<rect x="275.70" y="422.30" width="47.90" height="114.90" fill="none" stroke="#b8b8b8" stroke-width="0.4"/>
<text class="pl" x="179.60" y="422.60" transform="rotate(0.05 179.60 422.60)">(G)</text>
<g class="lab" font-size="4.003">
<text x="273.70" y="426.10" transform="rotate(0.05 273.70 425.85)">Biosynthesis of secondary metabolites</text>
<text x="273.70" y="429.91" transform="rotate(0.05 273.70 429.66)">Metabolic pathways</text>
<text x="273.70" y="433.72" transform="rotate(0.05 273.70 433.47)">Plant-pathogen interaction</text>
<text x="273.70" y="437.54" transform="rotate(0.05 273.70 437.29)">Galactose metabolism</text>
<text x="273.70" y="441.35" transform="rotate(0.05 273.70 441.10)">Photosynthesis - antenna proteins</text>
<text x="273.70" y="445.16" transform="rotate(0.05 273.70 444.91)">Biosynthesis of unsaturated fatty acids</text>
<text x="273.70" y="448.97" transform="rotate(0.05 273.70 448.72)">Phenylalanine metabolism</text>
<text x="273.70" y="452.79" transform="rotate(0.05 273.70 452.54)">Glycerolipid metabolism</text>
<text x="273.70" y="456.60" transform="rotate(0.05 273.70 456.35)">Phenylpropanoid biosynthesis</text>
<text x="273.70" y="460.41" transform="rotate(0.05 273.70 460.16)">Plant hormone signal transduction</text>
<text x="273.70" y="464.22" transform="rotate(0.05 273.70 463.97)">Starch and sucrose metabolism</text>
<text x="273.70" y="468.03" transform="rotate(0.05 273.70 467.78)">Fatty acid elongation</text>
<text x="273.70" y="471.85" transform="rotate(0.05 273.70 471.60)">ABC transporters</text>
<text x="273.70" y="475.66" transform="rotate(0.05 273.70 475.41)">MAPK signaling pathway - plant</text>
<text x="273.70" y="479.47" transform="rotate(0.05 273.70 479.22)">Nicotinate and nicotinamide metabolism</text>
<text x="273.70" y="483.28" transform="rotate(0.05 273.70 483.03)">Nitrogen metabolism</text>
<text x="273.70" y="487.09" transform="rotate(0.05 273.70 486.84)">Circadian rhythm - plant</text>
<text x="273.70" y="490.91" transform="rotate(0.05 273.70 490.66)">Linoleic acid metabolism</text>
<text x="273.70" y="494.72" transform="rotate(0.05 273.70 494.47)">Amino sugar and nucleotide sugar metabolism</text>
<text x="273.70" y="498.53" transform="rotate(0.05 273.70 498.28)">Pentose and glucuronate interconversions</text>
<text x="273.70" y="502.34" transform="rotate(0.05 273.70 502.09)">Glycosphingolipid biosynthesis - globo and isoglobo series</text>
<text x="273.70" y="506.15" transform="rotate(0.05 273.70 505.90)">Tropane, piperidine and pyridine alkaloid biosynthesis</text>
<text x="273.70" y="509.97" transform="rotate(0.05 273.70 509.72)">Riboflavin metabolism</text>
<text x="273.70" y="513.78" transform="rotate(0.05 273.70 513.53)">Sesquiterpenoid and triterpenoid biosynthesis</text>
<text x="273.70" y="517.59" transform="rotate(0.05 273.70 517.34)">Diterpenoid biosynthesis</text>
<text x="273.70" y="521.40" transform="rotate(0.05 273.70 521.15)">Ubiquinone and other terpenoid-quinone biosynthesis</text>
<text x="273.70" y="525.21" transform="rotate(0.05 273.70 524.96)">Brassinosteroid biosynthesis</text>
<text x="273.70" y="529.03" transform="rotate(0.05 273.70 528.78)">Arachidonic acid metabolism</text>
<text x="273.70" y="532.84" transform="rotate(0.05 273.70 532.59)">Carbon fixation in photosynthetic organisms</text>
<text x="273.70" y="536.65" transform="rotate(0.05 273.70 536.40)">Fatty acid metabolism</text>
</g>
<line x1="274.50" y1="424.65" x2="275.70" y2="424.65" stroke="#333" stroke-width="0.4"/>
<line x1="274.50" y1="428.46" x2="275.70" y2="428.46" stroke="#333" stroke-width="0.4"/>
<line x1="274.50" y1="432.27" x2="275.70" y2="432.27" stroke="#333" stroke-width="0.4"/>
<line x1="274.50" y1="436.09" x2="275.70" y2="436.09" stroke="#333" stroke-width="0.4"/>
<line x1="274.50" y1="439.90" x2="275.70" y2="439.90" stroke="#333" stroke-width="0.4"/>
<line x1="274.50" y1="443.71" x2="275.70" y2="443.71" stroke="#333" stroke-width="0.4"/>
<line x1="274.50" y1="447.52" x2="275.70" y2="447.52" stroke="#333" stroke-width="0.4"/>
<line x1="274.50" y1="451.33" x2="275.70" y2="451.33" stroke="#333" stroke-width="0.4"/>
<line x1="274.50" y1="455.15" x2="275.70" y2="455.15" stroke="#333" stroke-width="0.4"/>
<line x1="274.50" y1="458.96" x2="275.70" y2="458.96" stroke="#333" stroke-width="0.4"/>
<line x1="274.50" y1="462.77" x2="275.70" y2="462.77" stroke="#333" stroke-width="0.4"/>
<line x1="274.50" y1="466.58" x2="275.70" y2="466.58" stroke="#333" stroke-width="0.4"/>
<line x1="274.50" y1="470.39" x2="275.70" y2="470.39" stroke="#333" stroke-width="0.4"/>
<line x1="274.50" y1="474.21" x2="275.70" y2="474.21" stroke="#333" stroke-width="0.4"/>
<line x1="274.50" y1="478.02" x2="275.70" y2="478.02" stroke="#333" stroke-width="0.4"/>
<line x1="274.50" y1="481.83" x2="275.70" y2="481.83" stroke="#333" stroke-width="0.4"/>
<line x1="274.50" y1="485.64" x2="275.70" y2="485.64" stroke="#333" stroke-width="0.4"/>
<line x1="274.50" y1="489.46" x2="275.70" y2="489.46" stroke="#333" stroke-width="0.4"/>
<line x1="274.50" y1="493.27" x2="275.70" y2="493.27" stroke="#333" stroke-width="0.4"/>
<line x1="274.50" y1="497.08" x2="275.70" y2="497.08" stroke="#333" stroke-width="0.4"/>
<line x1="274.50" y1="500.89" x2="275.70" y2="500.89" stroke="#333" stroke-width="0.4"/>
<line x1="274.50" y1="504.70" x2="275.70" y2="504.70" stroke="#333" stroke-width="0.4"/>
<line x1="274.50" y1="508.52" x2="275.70" y2="508.52" stroke="#333" stroke-width="0.4"/>
<line x1="274.50" y1="512.33" x2="275.70" y2="512.33" stroke="#333" stroke-width="0.4"/>
<line x1="274.50" y1="516.14" x2="275.70" y2="516.14" stroke="#333" stroke-width="0.4"/>
<line x1="274.50" y1="519.95" x2="275.70" y2="519.95" stroke="#333" stroke-width="0.4"/>
<line x1="274.50" y1="523.76" x2="275.70" y2="523.76" stroke="#333" stroke-width="0.4"/>
<line x1="274.50" y1="527.58" x2="275.70" y2="527.58" stroke="#333" stroke-width="0.4"/>
<line x1="274.50" y1="531.39" x2="275.70" y2="531.39" stroke="#333" stroke-width="0.4"/>
<line x1="274.50" y1="535.20" x2="275.70" y2="535.20" stroke="#333" stroke-width="0.4"/>
<g class="val" font-size="2.554">
<rect x="276.60" y="423.16" width="8.80" height="2.97" fill="#ee4035"/>
<text x="286.62" y="425.52" transform="rotate(0.05 286.62 425.52)">196(1.97)</text>
<rect x="276.60" y="426.98" width="14.30" height="2.97" fill="#c24e56"/>
<text x="292.12" y="429.33" transform="rotate(0.05 292.12 429.33)">318(1.63)</text>
<rect x="276.60" y="430.79" width="3.30" height="2.97" fill="#b6525e"/>
<text x="281.12" y="433.14" transform="rotate(0.05 281.12 433.14)">73(1.54)</text>
<rect x="276.60" y="434.60" width="0.80" height="2.97" fill="#1b84d0"/>
<text x="278.62" y="436.95" transform="rotate(0.05 278.62 436.95)">18(0.34)</text>
<rect x="276.60" y="438.41" width="0.40" height="2.97" fill="#1b84d0"/>
<text x="278.22" y="440.77" transform="rotate(0.05 278.22 440.77)">9(0.34)</text>
<rect x="276.60" y="442.22" width="0.50" height="2.97" fill="#1b84d0"/>
<text x="278.32" y="444.58" transform="rotate(0.05 278.32 444.58)">11(0.34)</text>
<rect x="276.60" y="446.04" width="0.80" height="2.97" fill="#1b84d0"/>
<text x="278.62" y="448.39" transform="rotate(0.05 278.62 448.39)">18(0.34)</text>
<rect x="276.60" y="449.85" width="0.60" height="2.97" fill="#1b84d0"/>
<text x="278.42" y="452.20" transform="rotate(0.05 278.42 452.20)">13(0.34)</text>
<rect x="276.60" y="453.66" width="1.30" height="2.97" fill="#1487d5"/>
<text x="279.12" y="456.01" transform="rotate(0.05 279.12 456.01)">29(0.28)</text>
<rect x="276.60" y="457.47" width="1.90" height="2.97" fill="#1487d5"/>
<text x="279.72" y="459.83" transform="rotate(0.05 279.72 459.83)">42(0.28)</text>
<rect x="276.60" y="461.28" width="1.10" height="2.97" fill="#1487d5"/>
<text x="278.92" y="463.64" transform="rotate(0.05 278.92 463.64)">24(0.28)</text>
<rect x="276.60" y="465.10" width="0.40" height="2.97" fill="#1487d5"/>
<text x="278.22" y="467.45" transform="rotate(0.05 278.22 467.45)">9(0.28)</text>
<rect x="276.60" y="468.91" width="0.60" height="2.97" fill="#1487d5"/>
<text x="278.42" y="471.26" transform="rotate(0.05 278.42 471.26)">13(0.28)</text>
<rect x="276.60" y="472.72" width="1.30" height="2.97" fill="#1487d5"/>
<text x="279.12" y="475.08" transform="rotate(0.05 279.12 475.08)">29(0.28)</text>
<rect x="276.60" y="476.53" width="0.30" height="2.97" fill="#1487d5"/>
<text x="278.12" y="478.89" transform="rotate(0.05 278.12 478.89)">7(0.28)</text>
<rect x="276.60" y="480.34" width="0.40" height="2.97" fill="#1487d5"/>
<text x="278.22" y="482.70" transform="rotate(0.05 278.22 482.70)">9(0.28)</text>
<rect x="276.60" y="484.16" width="0.70" height="2.97" fill="#1487d5"/>
<text x="278.52" y="486.51" transform="rotate(0.05 278.52 486.51)">16(0.28)</text>
<rect x="276.60" y="487.97" width="0.30" height="2.97" fill="#1487d5"/>
<text x="278.12" y="490.32" transform="rotate(0.05 278.12 490.32)">7(0.28)</text>
<rect x="276.60" y="491.78" width="1.30" height="2.97" fill="#1487d5"/>
<text x="279.12" y="494.14" transform="rotate(0.05 279.12 494.14)">29(0.28)</text>
<rect x="276.60" y="495.59" width="0.90" height="2.97" fill="#1487d5"/>
<text x="278.72" y="497.95" transform="rotate(0.05 278.72 497.95)">20(0.28)</text>
<rect x="276.60" y="499.40" width="0.40" height="2.97" fill="#1487d5"/>
<text x="278.22" y="501.76" transform="rotate(0.05 278.22 501.76)">9(0.28)</text>
<rect x="276.60" y="503.22" width="0.40" height="2.97" fill="#1487d5"/>
<text x="278.22" y="505.57" transform="rotate(0.05 278.22 505.57)">9(0.28)</text>
<rect x="276.60" y="507.03" width="0.40" height="2.97" fill="#1487d5"/>
<text x="278.22" y="509.38" transform="rotate(0.05 278.22 509.38)">9(0.28)</text>
<rect x="276.60" y="510.84" width="0.60" height="2.97" fill="#1487d5"/>
<text x="278.42" y="513.20" transform="rotate(0.05 278.42 513.20)">13(0.28)</text>
<rect x="276.60" y="514.65" width="0.50" height="2.97" fill="#1487d5"/>
<text x="278.32" y="517.01" transform="rotate(0.05 278.32 517.01)">11(0.28)</text>
<rect x="276.60" y="518.47" width="0.80" height="2.97" fill="#1487d5"/>
<text x="278.62" y="520.82" transform="rotate(0.05 278.62 520.82)">18(0.28)</text>
<rect x="276.60" y="522.28" width="0.50" height="2.97" fill="#1487d5"/>
<text x="278.32" y="524.63" transform="rotate(0.05 278.32 524.63)">11(0.28)</text>
<rect x="276.60" y="526.09" width="0.30" height="2.97" fill="#1088d8"/>
<text x="278.12" y="528.44" transform="rotate(0.05 278.12 528.44)">7(0.25)</text>
<rect x="276.60" y="529.90" width="0.80" height="2.97" fill="#1088d8"/>
<text x="278.62" y="532.26" transform="rotate(0.05 278.62 532.26)">18(0.25)</text>
<rect x="276.60" y="533.71" width="0.80" height="2.97" fill="#1088d8"/>
<text x="278.62" y="536.07" transform="rotate(0.05 278.62 536.07)">18(0.25)</text>
</g>
<g class="tk" font-size="3.90">
<text x="275.20" y="543.84" transform="rotate(0.05 275.20 542.55)">0</text>
<text x="280.40" y="543.84" transform="rotate(0.05 280.40 542.55)">20</text>
<text x="287.10" y="543.84" transform="rotate(0.05 287.10 542.55)">40</text>
<text x="293.50" y="543.84" transform="rotate(0.05 293.50 542.55)">60</text>
<text x="300.90" y="543.84" transform="rotate(0.05 300.90 542.55)">80</text>
<text x="307.40" y="543.84" transform="rotate(0.05 307.40 542.55)">100</text>
<text x="314.80" y="543.84" transform="rotate(0.05 314.80 542.55)">120</text>
<text x="321.70" y="543.84" transform="rotate(0.05 321.70 542.55)">140</text>
</g>
<text class="lt" x="328.45" y="426.63" font-size="2.45" transform="rotate(0.05 328.45 425.90)">-log10(Qvalue)</text>
<rect x="327.85" y="430.45" width="2.10" height="15.90" fill="url(#lg)"/>
<text class="ll" x="330.85" y="432.65" font-size="2.3" transform="rotate(0.05 327.85 431.85)">1.97</text>
<text class="ll" x="330.85" y="439.20" font-size="2.3" transform="rotate(0.05 327.85 438.40)">1.11</text>
<text class="ll" x="330.85" y="445.75" font-size="2.3" transform="rotate(0.05 327.85 444.95)">0.25</text>
</g>
</svg>
</body></html>
